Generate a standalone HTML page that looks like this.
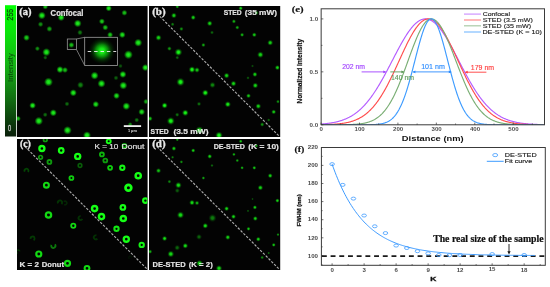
<!DOCTYPE html><html><head><meta charset="utf-8"><title>Figure</title><style>html,body{margin:0;padding:0;background:#fff;overflow:hidden}svg{display:block}</style></head><body>
<svg width="550" height="287" viewBox="0 0 550 287">
<defs>
<radialGradient id="g"><stop offset="0" stop-color="#22ff22" stop-opacity="1"/><stop offset="0.4" stop-color="#18ec18" stop-opacity="0.92"/><stop offset="0.7" stop-color="#10c010" stop-opacity="0.5"/><stop offset="1" stop-color="#009000" stop-opacity="0"/></radialGradient>
<radialGradient id="gs"><stop offset="0" stop-color="#1aff1a" stop-opacity="1"/><stop offset="0.35" stop-color="#14f014" stop-opacity="0.9"/><stop offset="0.7" stop-color="#0cb00c" stop-opacity="0.35"/><stop offset="1" stop-color="#009000" stop-opacity="0"/></radialGradient>
<radialGradient id="gi"><stop offset="0" stop-color="#20ff20" stop-opacity="1"/><stop offset="0.2" stop-color="#16f016" stop-opacity="0.95"/><stop offset="0.45" stop-color="#0cb80c" stop-opacity="0.75"/><stop offset="0.7" stop-color="#086808" stop-opacity="0.4"/><stop offset="1" stop-color="#003000" stop-opacity="0"/></radialGradient>
<linearGradient id="cb" x1="0" y1="0" x2="0" y2="1"><stop offset="0" stop-color="#00ff00"/><stop offset="0.2" stop-color="#0ae60a"/><stop offset="0.45" stop-color="#14b414"/><stop offset="0.7" stop-color="#127212"/><stop offset="0.9" stop-color="#0c380c"/><stop offset="1" stop-color="#0a1e0a"/></linearGradient>
<filter id="bl" x="-50%" y="-50%" width="200%" height="200%"><feGaussianBlur stdDeviation="0.45"/></filter>
<clipPath id="tr"><polygon points="0,0 130.6,0 130.6,131.0"/></clipPath>
<clipPath id="bl2"><polygon points="0,0 0,131.0 130.6,131.0"/></clipPath>
<clipPath id="pc"><rect x="0" y="0" width="130.6" height="131.0"/></clipPath>
<clipPath id="ec"><rect x="321.15" y="8.8" width="223.35000000000002" height="116.0"/></clipPath>
</defs>
<rect x="5" y="5.2" width="11.2" height="131.3" fill="url(#cb)"/>
<text transform="translate(13.1,20.4) rotate(-90)" font-family="'Liberation Sans', Arial, sans-serif" font-size="9" fill="#0a4a0a" stroke="#0a4a0a" stroke-width="0.25" textLength="11.5" lengthAdjust="spacingAndGlyphs">255</text>
<text transform="translate(12.6,81.9) rotate(-90)" font-family="'Liberation Sans', Arial, sans-serif" font-size="6.3" fill="#062a06" opacity="0.8" textLength="28.7" lengthAdjust="spacingAndGlyphs">Intensity</text>
<text transform="translate(7.9,131.3) scale(0.7,1)" font-family="'Liberation Sans', Arial, sans-serif" font-size="8.2" fill="#c8c8c8" stroke="#c8c8c8" stroke-width="0.3">0</text>
<g transform="translate(17.0,6.0)"><rect width="130.6" height="131.0" fill="#030303"/><g clip-path="url(#pc)">
<g><circle cx="28.3" cy="0.7" r="2.88" fill="url(#g)" opacity="0.76"/>
<circle cx="24.9" cy="9.5" r="4.02" fill="url(#g)" opacity="0.95"/>
<circle cx="44.2" cy="11.5" r="3.68" fill="url(#g)" opacity="0.95"/>
<circle cx="60.7" cy="17.4" r="4.02" fill="url(#g)" opacity="0.95"/>
<circle cx="23.6" cy="18.3" r="2.88" fill="url(#g)" opacity="0.57"/>
<circle cx="32.4" cy="22.9" r="3.1" fill="url(#g)" opacity="0.66"/>
<circle cx="63" cy="26.5" r="2.88" fill="url(#g)" opacity="0.47"/>
<circle cx="9.5" cy="31.7" r="3.45" fill="url(#g)" opacity="0.81"/>
<circle cx="54.4" cy="39" r="3.1" fill="url(#g)" opacity="0.76"/>
<circle cx="20.4" cy="42.6" r="2.64" fill="url(#g)" opacity="0.57"/>
<circle cx="29.4" cy="46.2" r="4.25" fill="url(#g)" opacity="0.95"/>
<circle cx="28.3" cy="51.6" r="2.3" fill="url(#g)" opacity="0.38"/>
<circle cx="43" cy="63.6" r="3.68" fill="url(#g)" opacity="0.95"/>
<circle cx="48" cy="64" r="3.1" fill="url(#g)" opacity="0.76"/>
<circle cx="91.7" cy="2.3" r="3.22" fill="url(#g)" opacity="0.95"/>
<circle cx="107.4" cy="6.8" r="3.1" fill="url(#g)" opacity="0.76"/>
<circle cx="84.9" cy="15.4" r="3.1" fill="url(#g)" opacity="0.81"/>
<circle cx="88.3" cy="21.5" r="3.1" fill="url(#g)" opacity="0.76"/>
<circle cx="93.1" cy="28.8" r="3.1" fill="url(#g)" opacity="0.81"/>
<circle cx="105.3" cy="28.8" r="3.45" fill="url(#g)" opacity="0.9"/>
<circle cx="121.2" cy="36.7" r="4.14" fill="url(#g)" opacity="0.95"/>
<circle cx="111.4" cy="48.7" r="4.6" fill="url(#g)" opacity="0.95"/>
<circle cx="128.4" cy="61.6" r="3.68" fill="url(#g)" opacity="0.95"/>
<circle cx="103.5" cy="60" r="2.3" fill="url(#g)" opacity="0.33"/>
<circle cx="31.5" cy="76" r="4.6" fill="url(#g)" opacity="0.95"/>
<circle cx="63.5" cy="79" r="3.45" fill="url(#g)" opacity="0.52"/>
<circle cx="56.3" cy="86.8" r="3.68" fill="url(#g)" opacity="0.95"/>
<circle cx="15.6" cy="99.5" r="3.45" fill="url(#g)" opacity="0.95"/>
<circle cx="50" cy="97.9" r="2.53" fill="url(#g)" opacity="0.43"/>
<circle cx="36.3" cy="106.8" r="3.68" fill="url(#g)" opacity="0.95"/>
<circle cx="28.2" cy="108.7" r="2.53" fill="url(#g)" opacity="0.43"/>
<circle cx="1.1" cy="112.6" r="2.88" fill="url(#g)" opacity="0.76"/>
<circle cx="21.8" cy="115" r="4.37" fill="url(#g)" opacity="0.95"/>
<circle cx="50.5" cy="124.3" r="4.37" fill="url(#g)" opacity="0.95"/>
<circle cx="77.6" cy="69.6" r="4.14" fill="url(#g)" opacity="0.95"/>
<circle cx="105.9" cy="68.4" r="3.68" fill="url(#g)" opacity="0.95"/>
<circle cx="99" cy="71.9" r="2.53" fill="url(#g)" opacity="0.38"/>
<circle cx="84.5" cy="77.6" r="4.14" fill="url(#g)" opacity="0.95"/>
<circle cx="106.3" cy="79.5" r="4.14" fill="url(#g)" opacity="0.95"/>
<circle cx="99.5" cy="89.8" r="3.45" fill="url(#g)" opacity="0.9"/>
<circle cx="78.8" cy="98.3" r="3.45" fill="url(#g)" opacity="0.9"/>
<circle cx="109.3" cy="100.2" r="4.02" fill="url(#g)" opacity="0.95"/>
<circle cx="129" cy="95.6" r="2.88" fill="url(#g)" opacity="0.66"/>
<circle cx="124.7" cy="105.9" r="3.45" fill="url(#g)" opacity="0.9"/>
<circle cx="119.7" cy="114" r="2.53" fill="url(#g)" opacity="0.47"/>
<circle cx="70" cy="129.3" r="4.14" fill="url(#g)" opacity="0.95"/>
<circle cx="113.2" cy="118.5" r="2.53" fill="url(#g)" opacity="0.57"/></g><rect x="50.3" y="33" width="9.1" height="10.4" fill="none" stroke="#a0a0a0" stroke-width="0.75"/><line x1="59.4" y1="33" x2="67.7" y2="31.3" stroke="#a0a0a0" stroke-width="0.7"/><line x1="59.4" y1="43.4" x2="67.7" y2="59.4" stroke="#a0a0a0" stroke-width="0.7"/><rect x="67.7" y="31.3" width="32.8" height="28.1" fill="#020202" stroke="#a0a0a0" stroke-width="0.8"/><circle cx="84.9" cy="44.8" r="13.5" fill="url(#gi)"/><line x1="70.7" y1="45.5" x2="99.2" y2="45.5" stroke="#f0f0f0" stroke-width="0.9" stroke-dasharray="3.5 2.9"/><rect x="106.8" y="119.2" width="17.3" height="1.8" fill="#f0f0f0"/><text x="110.9" y="126" font-family="'Liberation Sans', Arial, sans-serif" font-weight="bold" font-size="3.8" fill="#e0e0e0">1 μm</text><text transform="translate(2.24,8.92) scale(1.127,1)" font-family="'Liberation Serif', 'Times New Roman', serif" font-weight="bold" font-size="9.30" fill="#e8e8e8" stroke="#e8e8e8" stroke-width="0.3" xml:space="preserve">(a)</text><text transform="translate(33.58,9.50) scale(0.947,1)" font-family="'Liberation Sans', Arial, sans-serif" font-weight="bold" font-size="8.14" fill="#e4e4e4" stroke="#e4e4e4" stroke-width="0.18" xml:space="preserve">Confocal</text>
</g></g>
<g transform="translate(149.0,6.0)"><rect width="131.2" height="131.0" fill="#030303"/><g clip-path="url(#pc)">
<g clip-path="url(#tr)"><circle cx="28.3" cy="0.7" r="2.12" fill="url(#gs)" opacity="0.68"/>
<circle cx="24.9" cy="9.5" r="2.98" fill="url(#gs)" opacity="0.85"/>
<circle cx="44.2" cy="11.5" r="2.72" fill="url(#gs)" opacity="0.85"/>
<circle cx="60.7" cy="17.4" r="2.98" fill="url(#gs)" opacity="0.85"/>
<circle cx="23.6" cy="18.3" r="2.12" fill="url(#gs)" opacity="0.51"/>
<circle cx="32.4" cy="22.9" r="2.29" fill="url(#gs)" opacity="0.59"/>
<circle cx="63" cy="26.5" r="2.12" fill="url(#gs)" opacity="0.42"/>
<circle cx="9.5" cy="31.7" r="2.55" fill="url(#gs)" opacity="0.72"/>
<circle cx="54.4" cy="39" r="2.29" fill="url(#gs)" opacity="0.68"/>
<circle cx="20.4" cy="42.6" r="1.95" fill="url(#gs)" opacity="0.51"/>
<circle cx="29.4" cy="46.2" r="3.15" fill="url(#gs)" opacity="0.85"/>
<circle cx="28.3" cy="51.6" r="1.7" fill="url(#gs)" opacity="0.34"/>
<circle cx="43" cy="63.6" r="2.72" fill="url(#gs)" opacity="0.85"/>
<circle cx="48" cy="64" r="2.29" fill="url(#gs)" opacity="0.68"/>
<circle cx="91.7" cy="2.3" r="2.38" fill="url(#gs)" opacity="0.85"/>
<circle cx="107.4" cy="6.8" r="2.29" fill="url(#gs)" opacity="0.68"/>
<circle cx="84.9" cy="15.4" r="2.29" fill="url(#gs)" opacity="0.72"/>
<circle cx="88.3" cy="21.5" r="2.29" fill="url(#gs)" opacity="0.68"/>
<circle cx="93.1" cy="28.8" r="2.29" fill="url(#gs)" opacity="0.72"/>
<circle cx="105.3" cy="28.8" r="2.55" fill="url(#gs)" opacity="0.81"/>
<circle cx="121.2" cy="36.7" r="3.06" fill="url(#gs)" opacity="0.85"/>
<circle cx="111.4" cy="48.7" r="3.4" fill="url(#gs)" opacity="0.85"/>
<circle cx="128.4" cy="61.6" r="2.72" fill="url(#gs)" opacity="0.85"/>
<circle cx="103.5" cy="60" r="1.7" fill="url(#gs)" opacity="0.3"/>
<circle cx="31.5" cy="76" r="3.4" fill="url(#gs)" opacity="0.85"/>
<circle cx="63.5" cy="79" r="2.55" fill="url(#gs)" opacity="0.47"/>
<circle cx="56.3" cy="86.8" r="2.72" fill="url(#gs)" opacity="0.85"/>
<circle cx="15.6" cy="99.5" r="2.55" fill="url(#gs)" opacity="0.85"/>
<circle cx="50" cy="97.9" r="1.87" fill="url(#gs)" opacity="0.38"/>
<circle cx="36.3" cy="106.8" r="2.72" fill="url(#gs)" opacity="0.85"/>
<circle cx="28.2" cy="108.7" r="1.87" fill="url(#gs)" opacity="0.38"/>
<circle cx="1.1" cy="112.6" r="2.12" fill="url(#gs)" opacity="0.68"/>
<circle cx="21.8" cy="115" r="3.23" fill="url(#gs)" opacity="0.85"/>
<circle cx="50.5" cy="124.3" r="3.23" fill="url(#gs)" opacity="0.85"/>
<circle cx="77.6" cy="69.6" r="3.06" fill="url(#gs)" opacity="0.85"/>
<circle cx="105.9" cy="68.4" r="2.72" fill="url(#gs)" opacity="0.85"/>
<circle cx="99" cy="71.9" r="1.87" fill="url(#gs)" opacity="0.34"/>
<circle cx="84.5" cy="77.6" r="3.06" fill="url(#gs)" opacity="0.85"/>
<circle cx="106.3" cy="79.5" r="3.06" fill="url(#gs)" opacity="0.85"/>
<circle cx="99.5" cy="89.8" r="2.55" fill="url(#gs)" opacity="0.81"/>
<circle cx="78.8" cy="98.3" r="2.55" fill="url(#gs)" opacity="0.81"/>
<circle cx="109.3" cy="100.2" r="2.98" fill="url(#gs)" opacity="0.85"/>
<circle cx="129" cy="95.6" r="2.12" fill="url(#gs)" opacity="0.59"/>
<circle cx="124.7" cy="105.9" r="2.55" fill="url(#gs)" opacity="0.81"/>
<circle cx="119.7" cy="114" r="1.87" fill="url(#gs)" opacity="0.42"/>
<circle cx="70" cy="129.3" r="3.06" fill="url(#gs)" opacity="0.85"/>
<circle cx="113.2" cy="118.5" r="1.87" fill="url(#gs)" opacity="0.51"/></g><g clip-path="url(#bl2)"><circle cx="28.3" cy="0.7" r="2.7" fill="url(#gs)" opacity="0.8"/>
<circle cx="24.9" cy="9.5" r="3.78" fill="url(#gs)" opacity="1"/>
<circle cx="44.2" cy="11.5" r="3.46" fill="url(#gs)" opacity="1"/>
<circle cx="60.7" cy="17.4" r="3.78" fill="url(#gs)" opacity="1"/>
<circle cx="23.6" cy="18.3" r="2.7" fill="url(#gs)" opacity="0.6"/>
<circle cx="32.4" cy="22.9" r="2.92" fill="url(#gs)" opacity="0.7"/>
<circle cx="63" cy="26.5" r="2.7" fill="url(#gs)" opacity="0.5"/>
<circle cx="9.5" cy="31.7" r="3.24" fill="url(#gs)" opacity="0.85"/>
<circle cx="54.4" cy="39" r="2.92" fill="url(#gs)" opacity="0.8"/>
<circle cx="20.4" cy="42.6" r="2.48" fill="url(#gs)" opacity="0.6"/>
<circle cx="29.4" cy="46.2" r="4" fill="url(#gs)" opacity="1"/>
<circle cx="28.3" cy="51.6" r="2.16" fill="url(#gs)" opacity="0.4"/>
<circle cx="43" cy="63.6" r="3.46" fill="url(#gs)" opacity="1"/>
<circle cx="48" cy="64" r="2.92" fill="url(#gs)" opacity="0.8"/>
<circle cx="91.7" cy="2.3" r="3.02" fill="url(#gs)" opacity="1"/>
<circle cx="107.4" cy="6.8" r="2.92" fill="url(#gs)" opacity="0.8"/>
<circle cx="84.9" cy="15.4" r="2.92" fill="url(#gs)" opacity="0.85"/>
<circle cx="88.3" cy="21.5" r="2.92" fill="url(#gs)" opacity="0.8"/>
<circle cx="93.1" cy="28.8" r="2.92" fill="url(#gs)" opacity="0.85"/>
<circle cx="105.3" cy="28.8" r="3.24" fill="url(#gs)" opacity="0.95"/>
<circle cx="121.2" cy="36.7" r="3.89" fill="url(#gs)" opacity="1"/>
<circle cx="111.4" cy="48.7" r="4.32" fill="url(#gs)" opacity="1"/>
<circle cx="128.4" cy="61.6" r="3.46" fill="url(#gs)" opacity="1"/>
<circle cx="103.5" cy="60" r="2.16" fill="url(#gs)" opacity="0.35"/>
<circle cx="31.5" cy="76" r="4.32" fill="url(#gs)" opacity="1"/>
<circle cx="63.5" cy="79" r="3.24" fill="url(#gs)" opacity="0.55"/>
<circle cx="56.3" cy="86.8" r="3.46" fill="url(#gs)" opacity="1"/>
<circle cx="15.6" cy="99.5" r="3.24" fill="url(#gs)" opacity="1"/>
<circle cx="50" cy="97.9" r="2.38" fill="url(#gs)" opacity="0.45"/>
<circle cx="36.3" cy="106.8" r="3.46" fill="url(#gs)" opacity="1"/>
<circle cx="28.2" cy="108.7" r="2.38" fill="url(#gs)" opacity="0.45"/>
<circle cx="1.1" cy="112.6" r="2.7" fill="url(#gs)" opacity="0.8"/>
<circle cx="21.8" cy="115" r="4.1" fill="url(#gs)" opacity="1"/>
<circle cx="50.5" cy="124.3" r="4.1" fill="url(#gs)" opacity="1"/>
<circle cx="77.6" cy="69.6" r="3.89" fill="url(#gs)" opacity="1"/>
<circle cx="105.9" cy="68.4" r="3.46" fill="url(#gs)" opacity="1"/>
<circle cx="99" cy="71.9" r="2.38" fill="url(#gs)" opacity="0.4"/>
<circle cx="84.5" cy="77.6" r="3.89" fill="url(#gs)" opacity="1"/>
<circle cx="106.3" cy="79.5" r="3.89" fill="url(#gs)" opacity="1"/>
<circle cx="99.5" cy="89.8" r="3.24" fill="url(#gs)" opacity="0.95"/>
<circle cx="78.8" cy="98.3" r="3.24" fill="url(#gs)" opacity="0.95"/>
<circle cx="109.3" cy="100.2" r="3.78" fill="url(#gs)" opacity="1"/>
<circle cx="129" cy="95.6" r="2.7" fill="url(#gs)" opacity="0.7"/>
<circle cx="124.7" cy="105.9" r="3.24" fill="url(#gs)" opacity="0.95"/>
<circle cx="119.7" cy="114" r="2.38" fill="url(#gs)" opacity="0.5"/>
<circle cx="70" cy="129.3" r="3.89" fill="url(#gs)" opacity="1"/>
<circle cx="113.2" cy="118.5" r="2.38" fill="url(#gs)" opacity="0.6"/></g><line x1="8" y1="7.6" x2="130.6" y2="130.6" stroke="#ababab" stroke-width="1.15" stroke-dasharray="2.5 1.45"/><text transform="translate(3.22,9.02) scale(1.175,1)" font-family="'Liberation Serif', 'Times New Roman', serif" font-weight="bold" font-size="9.30" fill="#e8e8e8" stroke="#e8e8e8" stroke-width="0.3" xml:space="preserve">(b)</text><text transform="translate(74.71,8.60) scale(0.867,1)" font-family="'Liberation Sans', Arial, sans-serif" font-weight="bold" font-size="7.78" fill="#e4e4e4" stroke="#e4e4e4" stroke-width="0.18" xml:space="preserve">STED</text><text transform="translate(95.79,8.60) scale(1.069,1)" font-family="'Liberation Sans', Arial, sans-serif" font-weight="bold" font-size="7.78" fill="#e4e4e4" stroke="#e4e4e4" stroke-width="0.18" xml:space="preserve">(35 mW)</text><text transform="translate(1.60,127.50) scale(0.861,1)" font-family="'Liberation Sans', Arial, sans-serif" font-weight="bold" font-size="7.92" fill="#e4e4e4" stroke="#e4e4e4" stroke-width="0.18" xml:space="preserve">STED</text><text transform="translate(24.38,127.50) scale(1.065,1)" font-family="'Liberation Sans', Arial, sans-serif" font-weight="bold" font-size="7.92" fill="#e4e4e4" stroke="#e4e4e4" stroke-width="0.18" xml:space="preserve">(3.5 mW)</text>
</g></g>
<g transform="translate(17.0,139.0)"><rect width="130.6" height="131.0" fill="#030303"/><g clip-path="url(#pc)">
<g clip-path="url(#tr)" filter="url(#bl)"><circle cx="28.3" cy="0.7" r="1.8" fill="none" stroke="#14ff14" stroke-width="1.7" opacity="0.6"/>
<circle cx="24.9" cy="9.5" r="2.52" fill="none" stroke="#14ff14" stroke-width="2.38" opacity="1"/>
<circle cx="44.2" cy="11.5" r="2.3" fill="none" stroke="#14ff14" stroke-width="2.18" opacity="1"/>
<circle cx="60.7" cy="17.4" r="2.52" fill="none" stroke="#14ff14" stroke-width="2.38" opacity="1"/>
<circle cx="23.6" cy="18.3" r="1.8" fill="none" stroke="#14ff14" stroke-width="1.7" opacity="0.6"/>
<circle cx="32.4" cy="22.9" r="1.94" fill="none" stroke="#14ff14" stroke-width="1.84" opacity="0.6"/>
<circle cx="63" cy="26.5" r="1.8" fill="none" stroke="#14ff14" stroke-width="1.7" opacity="0.35"/>
<circle cx="9.5" cy="31.7" r="2.16" fill="none" stroke="#14ff14" stroke-width="2.04" opacity="0.4"/>
<circle cx="54.4" cy="39" r="1.94" fill="none" stroke="#14ff14" stroke-width="1.84" opacity="0.8"/>
<circle cx="29.4" cy="46.2" r="2.66" fill="none" stroke="#14ff14" stroke-width="2.52" opacity="1"/>
<circle cx="43" cy="63.6" r="2.3" fill="none" stroke="#14ff14" stroke-width="2.18" opacity="0.3"/>
<circle cx="48" cy="64" r="1.94" fill="none" stroke="#14ff14" stroke-width="1.84" opacity="0.2"/>
<circle cx="91.7" cy="2.3" r="2.02" fill="none" stroke="#14ff14" stroke-width="1.9" opacity="1"/>
<circle cx="107.4" cy="6.8" r="1.94" fill="none" stroke="#14ff14" stroke-width="1.84" opacity="0.7"/>
<circle cx="84.9" cy="15.4" r="1.94" fill="none" stroke="#14ff14" stroke-width="1.84" opacity="0.7"/>
<circle cx="88.3" cy="21.5" r="1.94" fill="none" stroke="#14ff14" stroke-width="1.84" opacity="0.6"/>
<circle cx="93.1" cy="28.8" r="1.94" fill="none" stroke="#14ff14" stroke-width="1.84" opacity="0.8"/>
<circle cx="105.3" cy="28.8" r="2.16" fill="none" stroke="#14ff14" stroke-width="2.04" opacity="0.95"/>
<circle cx="121.2" cy="36.7" r="2.59" fill="none" stroke="#14ff14" stroke-width="2.45" opacity="1"/>
<circle cx="111.4" cy="48.7" r="2.88" fill="none" stroke="#14ff14" stroke-width="2.72" opacity="1"/>
<circle cx="128.4" cy="61.6" r="2.3" fill="none" stroke="#14ff14" stroke-width="2.18" opacity="1"/>
<circle cx="31.5" cy="76" r="2.88" fill="none" stroke="#14ff14" stroke-width="2.72" opacity="1"/>
<circle cx="63.5" cy="79" r="2.16" fill="none" stroke="#14ff14" stroke-width="2.04" opacity="0.3"/>
<circle cx="56.3" cy="86.8" r="2.3" fill="none" stroke="#14ff14" stroke-width="2.18" opacity="1"/>
<circle cx="15.6" cy="99.5" r="2.16" fill="none" stroke="#14ff14" stroke-width="2.04" opacity="0.35"/>
<circle cx="36.3" cy="106.8" r="2.3" fill="none" stroke="#14ff14" stroke-width="2.18" opacity="0.7"/>
<circle cx="1.1" cy="112.6" r="1.8" fill="none" stroke="#14ff14" stroke-width="1.7" opacity="0.3"/>
<circle cx="21.8" cy="115" r="2.74" fill="none" stroke="#14ff14" stroke-width="2.58" opacity="1"/>
<circle cx="50.5" cy="124.3" r="2.74" fill="none" stroke="#14ff14" stroke-width="2.58" opacity="1"/>
<circle cx="77.6" cy="69.6" r="2.59" fill="none" stroke="#14ff14" stroke-width="2.45" opacity="1"/>
<circle cx="105.9" cy="68.4" r="2.3" fill="none" stroke="#14ff14" stroke-width="2.18" opacity="1"/>
<circle cx="84.5" cy="77.6" r="2.59" fill="none" stroke="#14ff14" stroke-width="2.45" opacity="1"/>
<circle cx="106.3" cy="79.5" r="2.59" fill="none" stroke="#14ff14" stroke-width="2.45" opacity="1"/>
<circle cx="99.5" cy="89.8" r="2.16" fill="none" stroke="#14ff14" stroke-width="2.04" opacity="0.9"/>
<circle cx="78.8" cy="98.3" r="2.16" fill="none" stroke="#14ff14" stroke-width="2.04" opacity="0.3"/>
<circle cx="109.3" cy="100.2" r="2.52" fill="none" stroke="#14ff14" stroke-width="2.38" opacity="1"/>
<circle cx="124.7" cy="105.9" r="2.16" fill="none" stroke="#14ff14" stroke-width="2.04" opacity="0.95"/>
<circle cx="70" cy="129.3" r="2.59" fill="none" stroke="#14ff14" stroke-width="2.45" opacity="1"/>
<circle cx="113.2" cy="118.5" r="1.58" fill="none" stroke="#14ff14" stroke-width="1.5" opacity="0.1"/></g><g clip-path="url(#bl2)" filter="url(#bl)"><circle cx="28.3" cy="0.7" r="1.66" fill="none" stroke="#14ff14" stroke-width="1.45" opacity="0.38" stroke-dasharray="6.45 3.95" transform="rotate(0 28.3 0.7)"/>
<circle cx="24.9" cy="9.5" r="2.32" fill="none" stroke="#14ff14" stroke-width="2.02" opacity="0.85"/>
<circle cx="44.2" cy="11.5" r="2.12" fill="none" stroke="#14ff14" stroke-width="1.85" opacity="0.85"/>
<circle cx="60.7" cy="17.4" r="2.32" fill="none" stroke="#14ff14" stroke-width="2.02" opacity="0.85"/>
<circle cx="23.6" cy="18.3" r="1.66" fill="none" stroke="#14ff14" stroke-width="1.45" opacity="0.38" stroke-dasharray="6.45 3.95" transform="rotate(292 23.6 18.3)"/>
<circle cx="32.4" cy="22.9" r="1.79" fill="none" stroke="#14ff14" stroke-width="1.56" opacity="0.38" stroke-dasharray="6.97 4.27" transform="rotate(5 32.4 22.9)"/>
<circle cx="63" cy="26.5" r="1.66" fill="none" stroke="#14ff14" stroke-width="1.45" opacity="0.22" stroke-dasharray="6.45 3.95" transform="rotate(78 63 26.5)"/>
<circle cx="9.5" cy="31.7" r="1.99" fill="none" stroke="#14ff14" stroke-width="1.73" opacity="0.26" stroke-dasharray="7.74 4.74" transform="rotate(151 9.5 31.7)"/>
<circle cx="54.4" cy="39" r="1.79" fill="none" stroke="#14ff14" stroke-width="1.56" opacity="0.51" stroke-dasharray="6.97 4.27" transform="rotate(224 54.4 39)"/>
<circle cx="29.4" cy="46.2" r="2.45" fill="none" stroke="#14ff14" stroke-width="2.14" opacity="0.85"/>
<circle cx="43" cy="63.6" r="2.12" fill="none" stroke="#14ff14" stroke-width="1.85" opacity="0.19" stroke-dasharray="8.26 5.06" transform="rotate(156 43 63.6)"/>
<circle cx="48" cy="64" r="1.79" fill="none" stroke="#14ff14" stroke-width="1.56" opacity="0.13" stroke-dasharray="6.97 4.27" transform="rotate(229 48 64)"/>
<circle cx="91.7" cy="2.3" r="1.85" fill="none" stroke="#14ff14" stroke-width="1.62" opacity="0.85"/>
<circle cx="107.4" cy="6.8" r="1.79" fill="none" stroke="#14ff14" stroke-width="1.56" opacity="0.45" stroke-dasharray="6.97 4.27" transform="rotate(15 107.4 6.8)"/>
<circle cx="84.9" cy="15.4" r="1.79" fill="none" stroke="#14ff14" stroke-width="1.56" opacity="0.45" stroke-dasharray="6.97 4.27" transform="rotate(88 84.9 15.4)"/>
<circle cx="88.3" cy="21.5" r="1.79" fill="none" stroke="#14ff14" stroke-width="1.56" opacity="0.38" stroke-dasharray="6.97 4.27" transform="rotate(161 88.3 21.5)"/>
<circle cx="93.1" cy="28.8" r="1.79" fill="none" stroke="#14ff14" stroke-width="1.56" opacity="0.51" stroke-dasharray="6.97 4.27" transform="rotate(234 93.1 28.8)"/>
<circle cx="105.3" cy="28.8" r="1.99" fill="none" stroke="#14ff14" stroke-width="1.73" opacity="0.81"/>
<circle cx="121.2" cy="36.7" r="2.38" fill="none" stroke="#14ff14" stroke-width="2.08" opacity="0.85"/>
<circle cx="111.4" cy="48.7" r="2.65" fill="none" stroke="#14ff14" stroke-width="2.31" opacity="0.85"/>
<circle cx="128.4" cy="61.6" r="2.12" fill="none" stroke="#14ff14" stroke-width="1.85" opacity="0.85"/>
<circle cx="31.5" cy="76" r="2.65" fill="none" stroke="#14ff14" stroke-width="2.31" opacity="0.85"/>
<circle cx="63.5" cy="79" r="1.99" fill="none" stroke="#14ff14" stroke-width="1.73" opacity="0.19" stroke-dasharray="7.74 4.74" transform="rotate(25 63.5 79)"/>
<circle cx="56.3" cy="86.8" r="2.12" fill="none" stroke="#14ff14" stroke-width="1.85" opacity="0.85"/>
<circle cx="15.6" cy="99.5" r="1.99" fill="none" stroke="#14ff14" stroke-width="1.73" opacity="0.22" stroke-dasharray="7.74 4.74" transform="rotate(171 15.6 99.5)"/>
<circle cx="36.3" cy="106.8" r="2.12" fill="none" stroke="#14ff14" stroke-width="1.85" opacity="0.45" stroke-dasharray="8.26 5.06" transform="rotate(317 36.3 106.8)"/>
<circle cx="1.1" cy="112.6" r="1.66" fill="none" stroke="#14ff14" stroke-width="1.45" opacity="0.19" stroke-dasharray="6.45 3.95" transform="rotate(103 1.1 112.6)"/>
<circle cx="21.8" cy="115" r="2.52" fill="none" stroke="#14ff14" stroke-width="2.2" opacity="0.85"/>
<circle cx="50.5" cy="124.3" r="2.52" fill="none" stroke="#14ff14" stroke-width="2.2" opacity="0.85"/>
<circle cx="77.6" cy="69.6" r="2.38" fill="none" stroke="#14ff14" stroke-width="2.08" opacity="0.85"/>
<circle cx="105.9" cy="68.4" r="2.12" fill="none" stroke="#14ff14" stroke-width="1.85" opacity="0.85"/>
<circle cx="84.5" cy="77.6" r="2.38" fill="none" stroke="#14ff14" stroke-width="2.08" opacity="0.85"/>
<circle cx="106.3" cy="79.5" r="2.38" fill="none" stroke="#14ff14" stroke-width="2.08" opacity="0.85"/>
<circle cx="99.5" cy="89.8" r="1.99" fill="none" stroke="#14ff14" stroke-width="1.73" opacity="0.77"/>
<circle cx="78.8" cy="98.3" r="1.99" fill="none" stroke="#14ff14" stroke-width="1.73" opacity="0.19" stroke-dasharray="7.74 4.74" transform="rotate(40 78.8 98.3)"/>
<circle cx="109.3" cy="100.2" r="2.32" fill="none" stroke="#14ff14" stroke-width="2.02" opacity="0.85"/>
<circle cx="124.7" cy="105.9" r="1.99" fill="none" stroke="#14ff14" stroke-width="1.73" opacity="0.81"/>
<circle cx="70" cy="129.3" r="2.38" fill="none" stroke="#14ff14" stroke-width="2.08" opacity="0.85"/>
<circle cx="113.2" cy="118.5" r="1.46" fill="none" stroke="#14ff14" stroke-width="1.27" opacity="0.06" stroke-dasharray="5.68 3.48" transform="rotate(118 113.2 118.5)"/></g><line x1="8" y1="7.6" x2="130.6" y2="130.6" stroke="#ababab" stroke-width="1.15" stroke-dasharray="2.5 1.45"/><text transform="translate(2.97,7.82) scale(1.052,1)" font-family="'Liberation Serif', 'Times New Roman', serif" font-weight="bold" font-size="9.30" fill="#e8e8e8" stroke="#e8e8e8" stroke-width="0.3" xml:space="preserve">(c)</text><text transform="translate(77.43,9.70) scale(1.015,1)" font-family="'Liberation Sans', Arial, sans-serif" font-size="8.07" fill="#e4e4e4" stroke="#e4e4e4" stroke-width="0.18" xml:space="preserve">K = 10</text><text transform="translate(104.50,9.70) scale(1.062,1)" font-family="'Liberation Sans', Arial, sans-serif" font-size="8.07" fill="#e4e4e4" stroke="#e4e4e4" stroke-width="0.18" xml:space="preserve">Donut</text><text transform="translate(2.46,127.90) scale(0.998,1)" font-family="'Liberation Sans', Arial, sans-serif" font-weight="bold" font-size="8.07" fill="#e4e4e4" stroke="#e4e4e4" stroke-width="0.18" xml:space="preserve">K = 2</text><text transform="translate(24.79,127.90) scale(0.953,1)" font-family="'Liberation Sans', Arial, sans-serif" font-weight="bold" font-size="8.07" fill="#e4e4e4" stroke="#e4e4e4" stroke-width="0.18" xml:space="preserve">Donut</text>
</g></g>
<g transform="translate(149.0,139.0)"><rect width="131.2" height="131.0" fill="#030303"/><g clip-path="url(#pc)">
<g clip-path="url(#tr)"><circle cx="28.3" cy="0.7" r="1.8" fill="url(#gs)" opacity="0.68"/>
<circle cx="24.9" cy="9.5" r="2.52" fill="url(#gs)" opacity="0.85"/>
<circle cx="44.2" cy="11.5" r="2.3" fill="url(#gs)" opacity="0.85"/>
<circle cx="60.7" cy="17.4" r="2.52" fill="url(#gs)" opacity="0.85"/>
<circle cx="23.6" cy="18.3" r="1.8" fill="url(#gs)" opacity="0.51"/>
<circle cx="32.4" cy="22.9" r="1.94" fill="url(#gs)" opacity="0.59"/>
<circle cx="63" cy="26.5" r="1.8" fill="url(#gs)" opacity="0.42"/>
<circle cx="9.5" cy="31.7" r="2.16" fill="url(#gs)" opacity="0.72"/>
<circle cx="54.4" cy="39" r="1.94" fill="url(#gs)" opacity="0.68"/>
<circle cx="20.4" cy="42.6" r="1.66" fill="url(#gs)" opacity="0.51"/>
<circle cx="29.4" cy="46.2" r="2.66" fill="url(#gs)" opacity="0.85"/>
<circle cx="28.3" cy="51.6" r="1.44" fill="url(#gs)" opacity="0.34"/>
<circle cx="43" cy="63.6" r="2.3" fill="url(#gs)" opacity="0.85"/>
<circle cx="48" cy="64" r="1.94" fill="url(#gs)" opacity="0.68"/>
<circle cx="91.7" cy="2.3" r="2.02" fill="url(#gs)" opacity="0.85"/>
<circle cx="107.4" cy="6.8" r="1.94" fill="url(#gs)" opacity="0.68"/>
<circle cx="84.9" cy="15.4" r="1.94" fill="url(#gs)" opacity="0.72"/>
<circle cx="88.3" cy="21.5" r="1.94" fill="url(#gs)" opacity="0.68"/>
<circle cx="93.1" cy="28.8" r="1.94" fill="url(#gs)" opacity="0.72"/>
<circle cx="105.3" cy="28.8" r="2.16" fill="url(#gs)" opacity="0.81"/>
<circle cx="121.2" cy="36.7" r="2.59" fill="url(#gs)" opacity="0.85"/>
<circle cx="111.4" cy="48.7" r="2.88" fill="url(#gs)" opacity="0.85"/>
<circle cx="128.4" cy="61.6" r="2.3" fill="url(#gs)" opacity="0.85"/>
<circle cx="103.5" cy="60" r="1.44" fill="url(#gs)" opacity="0.3"/>
<circle cx="31.5" cy="76" r="2.88" fill="url(#gs)" opacity="0.85"/>
<circle cx="63.5" cy="79" r="2.16" fill="url(#gs)" opacity="0.47"/>
<circle cx="56.3" cy="86.8" r="2.3" fill="url(#gs)" opacity="0.85"/>
<circle cx="15.6" cy="99.5" r="2.16" fill="url(#gs)" opacity="0.85"/>
<circle cx="50" cy="97.9" r="1.58" fill="url(#gs)" opacity="0.38"/>
<circle cx="36.3" cy="106.8" r="2.3" fill="url(#gs)" opacity="0.85"/>
<circle cx="28.2" cy="108.7" r="1.58" fill="url(#gs)" opacity="0.38"/>
<circle cx="1.1" cy="112.6" r="1.8" fill="url(#gs)" opacity="0.68"/>
<circle cx="21.8" cy="115" r="2.74" fill="url(#gs)" opacity="0.85"/>
<circle cx="50.5" cy="124.3" r="2.74" fill="url(#gs)" opacity="0.85"/>
<circle cx="77.6" cy="69.6" r="2.59" fill="url(#gs)" opacity="0.85"/>
<circle cx="105.9" cy="68.4" r="2.3" fill="url(#gs)" opacity="0.85"/>
<circle cx="99" cy="71.9" r="1.58" fill="url(#gs)" opacity="0.34"/>
<circle cx="84.5" cy="77.6" r="2.59" fill="url(#gs)" opacity="0.85"/>
<circle cx="106.3" cy="79.5" r="2.59" fill="url(#gs)" opacity="0.85"/>
<circle cx="99.5" cy="89.8" r="2.16" fill="url(#gs)" opacity="0.81"/>
<circle cx="78.8" cy="98.3" r="2.16" fill="url(#gs)" opacity="0.81"/>
<circle cx="109.3" cy="100.2" r="2.52" fill="url(#gs)" opacity="0.85"/>
<circle cx="129" cy="95.6" r="1.8" fill="url(#gs)" opacity="0.59"/>
<circle cx="124.7" cy="105.9" r="2.16" fill="url(#gs)" opacity="0.81"/>
<circle cx="119.7" cy="114" r="1.58" fill="url(#gs)" opacity="0.42"/>
<circle cx="70" cy="129.3" r="2.59" fill="url(#gs)" opacity="0.85"/>
<circle cx="113.2" cy="118.5" r="1.58" fill="url(#gs)" opacity="0.51"/></g><g clip-path="url(#bl2)"><circle cx="28.3" cy="0.7" r="2.3" fill="url(#gs)" opacity="0.72"/>
<circle cx="24.9" cy="9.5" r="3.22" fill="url(#gs)" opacity="0.9"/>
<circle cx="44.2" cy="11.5" r="2.94" fill="url(#gs)" opacity="0.9"/>
<circle cx="60.7" cy="17.4" r="3.22" fill="url(#gs)" opacity="0.9"/>
<circle cx="23.6" cy="18.3" r="2.3" fill="url(#gs)" opacity="0.54"/>
<circle cx="32.4" cy="22.9" r="2.48" fill="url(#gs)" opacity="0.63"/>
<circle cx="63" cy="26.5" r="3.45" fill="url(#gs)" opacity="0.45"/>
<circle cx="9.5" cy="31.7" r="2.76" fill="url(#gs)" opacity="0.77"/>
<circle cx="54.4" cy="39" r="2.48" fill="url(#gs)" opacity="0.72"/>
<circle cx="20.4" cy="42.6" r="2.12" fill="url(#gs)" opacity="0.54"/>
<circle cx="29.4" cy="46.2" r="3.4" fill="url(#gs)" opacity="0.9"/>
<circle cx="28.3" cy="51.6" r="2.76" fill="url(#gs)" opacity="0.36"/>
<circle cx="43" cy="63.6" r="2.94" fill="url(#gs)" opacity="0.9"/>
<circle cx="48" cy="64" r="2.48" fill="url(#gs)" opacity="0.72"/>
<circle cx="91.7" cy="2.3" r="2.58" fill="url(#gs)" opacity="0.9"/>
<circle cx="107.4" cy="6.8" r="2.48" fill="url(#gs)" opacity="0.72"/>
<circle cx="84.9" cy="15.4" r="2.48" fill="url(#gs)" opacity="0.77"/>
<circle cx="88.3" cy="21.5" r="2.48" fill="url(#gs)" opacity="0.72"/>
<circle cx="93.1" cy="28.8" r="2.48" fill="url(#gs)" opacity="0.77"/>
<circle cx="105.3" cy="28.8" r="2.76" fill="url(#gs)" opacity="0.85"/>
<circle cx="121.2" cy="36.7" r="3.31" fill="url(#gs)" opacity="0.9"/>
<circle cx="111.4" cy="48.7" r="3.68" fill="url(#gs)" opacity="0.9"/>
<circle cx="128.4" cy="61.6" r="2.94" fill="url(#gs)" opacity="0.9"/>
<circle cx="103.5" cy="60" r="2.76" fill="url(#gs)" opacity="0.32"/>
<circle cx="31.5" cy="76" r="3.68" fill="url(#gs)" opacity="0.9"/>
<circle cx="63.5" cy="79" r="4.14" fill="url(#gs)" opacity="0.5"/>
<circle cx="56.3" cy="86.8" r="2.94" fill="url(#gs)" opacity="0.9"/>
<circle cx="15.6" cy="99.5" r="2.76" fill="url(#gs)" opacity="0.9"/>
<circle cx="50" cy="97.9" r="3.04" fill="url(#gs)" opacity="0.41"/>
<circle cx="36.3" cy="106.8" r="2.94" fill="url(#gs)" opacity="0.9"/>
<circle cx="28.2" cy="108.7" r="3.04" fill="url(#gs)" opacity="0.41"/>
<circle cx="1.1" cy="112.6" r="2.3" fill="url(#gs)" opacity="0.72"/>
<circle cx="21.8" cy="115" r="3.5" fill="url(#gs)" opacity="0.9"/>
<circle cx="50.5" cy="124.3" r="3.5" fill="url(#gs)" opacity="0.9"/>
<circle cx="77.6" cy="69.6" r="3.31" fill="url(#gs)" opacity="0.9"/>
<circle cx="105.9" cy="68.4" r="2.94" fill="url(#gs)" opacity="0.9"/>
<circle cx="99" cy="71.9" r="3.04" fill="url(#gs)" opacity="0.36"/>
<circle cx="84.5" cy="77.6" r="3.31" fill="url(#gs)" opacity="0.9"/>
<circle cx="106.3" cy="79.5" r="3.31" fill="url(#gs)" opacity="0.9"/>
<circle cx="99.5" cy="89.8" r="2.76" fill="url(#gs)" opacity="0.85"/>
<circle cx="78.8" cy="98.3" r="2.76" fill="url(#gs)" opacity="0.85"/>
<circle cx="109.3" cy="100.2" r="3.22" fill="url(#gs)" opacity="0.9"/>
<circle cx="129" cy="95.6" r="2.3" fill="url(#gs)" opacity="0.63"/>
<circle cx="124.7" cy="105.9" r="2.76" fill="url(#gs)" opacity="0.85"/>
<circle cx="119.7" cy="114" r="3.04" fill="url(#gs)" opacity="0.45"/>
<circle cx="70" cy="129.3" r="3.31" fill="url(#gs)" opacity="0.9"/>
<circle cx="113.2" cy="118.5" r="2.02" fill="url(#gs)" opacity="0.54"/></g><line x1="8" y1="7.6" x2="130.6" y2="130.6" stroke="#ababab" stroke-width="1.15" stroke-dasharray="2.5 1.45"/><text transform="translate(3.22,7.52) scale(1.175,1)" font-family="'Liberation Serif', 'Times New Roman', serif" font-weight="bold" font-size="9.30" fill="#e8e8e8" stroke="#e8e8e8" stroke-width="0.3" xml:space="preserve">(d)</text><text transform="translate(64.72,9.65) scale(0.891,1)" font-family="'Liberation Sans', Arial, sans-serif" font-weight="bold" font-size="7.99" fill="#e4e4e4" stroke="#e4e4e4" stroke-width="0.18" xml:space="preserve">DE-STED</text><text transform="translate(99.28,9.65) scale(1.053,1)" font-family="'Liberation Sans', Arial, sans-serif" font-weight="bold" font-size="7.99" fill="#e4e4e4" stroke="#e4e4e4" stroke-width="0.18" xml:space="preserve">(K = 10)</text><text transform="translate(3.60,128.00) scale(0.933,1)" font-family="'Liberation Sans', Arial, sans-serif" font-weight="bold" font-size="8.07" fill="#e4e4e4" stroke="#e4e4e4" stroke-width="0.18" xml:space="preserve">DE-STED</text><text transform="translate(39.71,128.00) scale(0.968,1)" font-family="'Liberation Sans', Arial, sans-serif" font-weight="bold" font-size="8.07" fill="#e4e4e4" stroke="#e4e4e4" stroke-width="0.18" xml:space="preserve">(K = 2)</text>
</g></g>
<text transform="translate(291.73,12.30) scale(1.345,1)" font-family="'Liberation Serif', 'Times New Roman', serif" font-weight="bold" font-size="8.00" fill="#111" stroke="#111" stroke-width="0.12" xml:space="preserve">(e)</text>
<g clip-path="url(#ec)" fill="none" stroke-width="1.15">
<path d="M321.65,124.01 L322.15,123.97 L322.65,123.93 L323.15,123.89 L323.65,123.84 L324.15,123.8 L324.65,123.75 L325.15,123.7 L325.65,123.65 L326.15,123.6 L326.65,123.54 L327.15,123.48 L327.65,123.42 L328.15,123.36 L328.65,123.3 L329.15,123.23 L329.65,123.16 L330.15,123.09 L330.65,123.01 L331.15,122.93 L331.65,122.85 L332.15,122.77 L332.65,122.68 L333.15,122.59 L333.65,122.49 L334.15,122.4 L334.65,122.29 L335.15,122.19 L335.65,122.08 L336.15,121.97 L336.65,121.85 L337.15,121.73 L337.65,121.6 L338.15,121.48 L338.65,121.34 L339.15,121.2 L339.65,121.06 L340.15,120.91 L340.65,120.76 L341.15,120.6 L341.65,120.44 L342.15,120.27 L342.65,120.09 L343.15,119.91 L343.65,119.73 L344.15,119.54 L344.65,119.34 L345.15,119.14 L345.65,118.93 L346.15,118.71 L346.65,118.49 L347.15,118.26 L347.65,118.02 L348.15,117.78 L348.65,117.53 L349.15,117.28 L349.65,117.01 L350.15,116.74 L350.65,116.46 L351.15,116.17 L351.65,115.88 L352.15,115.58 L352.65,115.26 L353.15,114.94 L353.65,114.62 L354.15,114.28 L354.65,113.94 L355.15,113.58 L355.65,113.22 L356.15,112.85 L356.65,112.47 L357.15,112.08 L357.65,111.68 L358.15,111.27 L358.65,110.85 L359.15,110.42 L359.65,109.99 L360.15,109.54 L360.65,109.08 L361.15,108.62 L361.65,108.14 L362.15,107.65 L362.65,107.15 L363.15,106.64 L363.65,106.12 L364.15,105.6 L364.65,105.06 L365.15,104.51 L365.65,103.94 L366.15,103.37 L366.65,102.79 L367.15,102.2 L367.65,101.59 L368.15,100.98 L368.65,100.36 L369.15,99.72 L369.65,99.07 L370.15,98.42 L370.65,97.75 L371.15,97.07 L371.65,96.38 L372.15,95.68 L372.65,94.97 L373.15,94.25 L373.65,93.52 L374.15,92.78 L374.65,92.03 L375.15,91.27 L375.65,90.5 L376.15,89.72 L376.65,88.93 L377.15,88.13 L377.65,87.32 L378.15,86.5 L378.65,85.67 L379.15,84.84 L379.65,83.99 L380.15,83.14 L380.65,82.28 L381.15,81.41 L381.65,80.53 L382.15,79.65 L382.65,78.76 L383.15,77.86 L383.65,76.95 L384.15,76.04 L384.65,75.12 L385.15,74.2 L385.65,73.27 L386.15,72.34 L386.65,71.4 L387.15,70.46 L387.65,69.51 L388.15,68.56 L388.65,67.6 L389.15,66.64 L389.65,65.68 L390.15,64.72 L390.65,63.76 L391.15,62.79 L391.65,61.83 L392.15,60.86 L392.65,59.89 L393.15,58.92 L393.65,57.96 L394.15,56.99 L394.65,56.03 L395.15,55.07 L395.65,54.11 L396.15,53.15 L396.65,52.2 L397.15,51.25 L397.65,50.31 L398.15,49.37 L398.65,48.44 L399.15,47.51 L399.65,46.59 L400.15,45.68 L400.65,44.77 L401.15,43.87 L401.65,42.98 L402.15,42.1 L402.65,41.23 L403.15,40.37 L403.65,39.52 L404.15,38.68 L404.65,37.85 L405.15,37.04 L405.65,36.23 L406.15,35.44 L406.65,34.66 L407.15,33.9 L407.65,33.15 L408.15,32.42 L408.65,31.7 L409.15,30.99 L409.65,30.31 L410.15,29.64 L410.65,28.98 L411.15,28.34 L411.65,27.73 L412.15,27.12 L412.65,26.54 L413.15,25.98 L413.65,25.44 L414.15,24.91 L414.65,24.41 L415.15,23.92 L415.65,23.46 L416.15,23.02 L416.65,22.6 L417.15,22.2 L417.65,21.82 L418.15,21.46 L418.65,21.13 L419.15,20.82 L419.65,20.53 L420.15,20.27 L420.65,20.02 L421.15,19.81 L421.65,19.61 L422.15,19.44 L422.65,19.29 L423.15,19.16 L423.65,19.06 L424.15,18.99 L424.65,18.93 L425.15,18.91 L425.65,18.9 L426.15,18.92 L426.65,18.96 L427.15,19.03 L427.65,19.12 L428.15,19.24 L428.65,19.38 L429.15,19.54 L429.65,19.72 L430.15,19.93 L430.65,20.17 L431.15,20.42 L431.65,20.7 L432.15,21 L432.65,21.33 L433.15,21.67 L433.65,22.04 L434.15,22.43 L434.65,22.85 L435.15,23.28 L435.65,23.74 L436.15,24.21 L436.65,24.71 L437.15,25.22 L437.65,25.76 L438.15,26.31 L438.65,26.89 L439.15,27.48 L439.65,28.09 L440.15,28.72 L440.65,29.37 L441.15,30.04 L441.65,30.72 L442.15,31.41 L442.65,32.13 L443.15,32.86 L443.65,33.6 L444.15,34.36 L444.65,35.13 L445.15,35.92 L445.65,36.71 L446.15,37.53 L446.65,38.35 L447.15,39.18 L447.65,40.03 L448.15,40.89 L448.65,41.75 L449.15,42.63 L449.65,43.52 L450.15,44.41 L450.65,45.31 L451.15,46.23 L451.65,47.14 L452.15,48.07 L452.65,49 L453.15,49.93 L453.65,50.88 L454.15,51.82 L454.65,52.77 L455.15,53.73 L455.65,54.68 L456.15,55.64 L456.65,56.61 L457.15,57.57 L457.65,58.54 L458.15,59.5 L458.65,60.47 L459.15,61.44 L459.65,62.41 L460.15,63.37 L460.65,64.34 L461.15,65.3 L461.65,66.26 L462.15,67.22 L462.65,68.18 L463.15,69.13 L463.65,70.08 L464.15,71.02 L464.65,71.96 L465.15,72.9 L465.65,73.83 L466.15,74.76 L466.65,75.68 L467.15,76.59 L467.65,77.5 L468.15,78.4 L468.65,79.29 L469.15,80.18 L469.65,81.06 L470.15,81.93 L470.65,82.8 L471.15,83.65 L471.65,84.5 L472.15,85.34 L472.65,86.17 L473.15,86.99 L473.65,87.8 L474.15,88.61 L474.65,89.4 L475.15,90.19 L475.65,90.96 L476.15,91.73 L476.65,92.48 L477.15,93.23 L477.65,93.96 L478.15,94.68 L478.65,95.4 L479.15,96.1 L479.65,96.8 L480.15,97.48 L480.65,98.15 L481.15,98.81 L481.65,99.46 L482.15,100.1 L482.65,100.73 L483.15,101.35 L483.65,101.96 L484.15,102.56 L484.65,103.14 L485.15,103.72 L485.65,104.28 L486.15,104.84 L486.65,105.38 L487.15,105.91 L487.65,106.44 L488.15,106.95 L488.65,107.45 L489.15,107.94 L489.65,108.43 L490.15,108.9 L490.65,109.36 L491.15,109.81 L491.65,110.25 L492.15,110.68 L492.65,111.1 L493.15,111.52 L493.65,111.92 L494.15,112.31 L494.65,112.7 L495.15,113.07 L495.65,113.44 L496.15,113.8 L496.65,114.14 L497.15,114.48 L497.65,114.81 L498.15,115.14 L498.65,115.45 L499.15,115.76 L499.65,116.06 L500.15,116.35 L500.65,116.63 L501.15,116.9 L501.65,117.17 L502.15,117.43 L502.65,117.68 L503.15,117.93 L503.65,118.17 L504.15,118.4 L504.65,118.62 L505.15,118.84 L505.65,119.05 L506.15,119.26 L506.65,119.46 L507.15,119.65 L507.65,119.84 L508.15,120.02 L508.65,120.2 L509.15,120.37 L509.65,120.54 L510.15,120.7 L510.65,120.85 L511.15,121 L511.65,121.15 L512.15,121.29 L512.65,121.42 L513.15,121.55 L513.65,121.68 L514.15,121.8 L514.65,121.92 L515.15,122.04 L515.65,122.15 L516.15,122.25 L516.65,122.36 L517.15,122.46 L517.65,122.55 L518.15,122.64 L518.65,122.73 L519.15,122.82 L519.65,122.9 L520.15,122.98 L520.65,123.06 L521.15,123.13 L521.65,123.2 L522.15,123.27 L522.65,123.34 L523.15,123.4 L523.65,123.46 L524.15,123.52 L524.65,123.57 L525.15,123.63 L525.65,123.68 L526.15,123.73 L526.65,123.78 L527.15,123.82 L527.65,123.87 L528.15,123.91 L528.65,123.95 L529.15,123.99 L529.65,124.03 L530.15,124.06 L530.65,124.1 L531.15,124.13 L531.65,124.16 L532.15,124.19 L532.65,124.22 L533.15,124.25 L533.65,124.27 L534.15,124.3 L534.65,124.32 L535.15,124.35 L535.65,124.37 L536.15,124.39 L536.65,124.41 L537.15,124.43 L537.65,124.45 L538.15,124.47 L538.65,124.48 L539.15,124.5 L539.65,124.51 L540.15,124.53 L540.65,124.54 L541.15,124.55 L541.65,124.57 L542.15,124.58 L542.65,124.59 L543.15,124.6 L543.65,124.61" stroke="#b45cff"/>
<path d="M321.65,124.66 L322.15,124.65 L322.65,124.64 L323.15,124.63 L323.65,124.62 L324.15,124.61 L324.65,124.6 L325.15,124.59 L325.65,124.58 L326.15,124.56 L326.65,124.55 L327.15,124.53 L327.65,124.52 L328.15,124.5 L328.65,124.48 L329.15,124.46 L329.65,124.44 L330.15,124.42 L330.65,124.4 L331.15,124.38 L331.65,124.35 L332.15,124.32 L332.65,124.3 L333.15,124.27 L333.65,124.24 L334.15,124.21 L334.65,124.17 L335.15,124.14 L335.65,124.1 L336.15,124.06 L336.65,124.02 L337.15,123.98 L337.65,123.93 L338.15,123.89 L338.65,123.84 L339.15,123.79 L339.65,123.73 L340.15,123.68 L340.65,123.62 L341.15,123.56 L341.65,123.49 L342.15,123.42 L342.65,123.35 L343.15,123.28 L343.65,123.2 L344.15,123.12 L344.65,123.04 L345.15,122.95 L345.65,122.86 L346.15,122.76 L346.65,122.66 L347.15,122.56 L347.65,122.45 L348.15,122.33 L348.65,122.22 L349.15,122.09 L349.65,121.97 L350.15,121.83 L350.65,121.7 L351.15,121.55 L351.65,121.4 L352.15,121.25 L352.65,121.09 L353.15,120.92 L353.65,120.75 L354.15,120.57 L354.65,120.38 L355.15,120.19 L355.65,119.99 L356.15,119.78 L356.65,119.56 L357.15,119.34 L357.65,119.11 L358.15,118.87 L358.65,118.62 L359.15,118.37 L359.65,118.1 L360.15,117.83 L360.65,117.55 L361.15,117.26 L361.65,116.96 L362.15,116.65 L362.65,116.33 L363.15,116 L363.65,115.66 L364.15,115.31 L364.65,114.94 L365.15,114.57 L365.65,114.19 L366.15,113.8 L366.65,113.39 L367.15,112.97 L367.65,112.54 L368.15,112.1 L368.65,111.65 L369.15,111.19 L369.65,110.71 L370.15,110.22 L370.65,109.72 L371.15,109.21 L371.65,108.68 L372.15,108.14 L372.65,107.58 L373.15,107.02 L373.65,106.44 L374.15,105.84 L374.65,105.24 L375.15,104.62 L375.65,103.98 L376.15,103.34 L376.65,102.67 L377.15,102 L377.65,101.31 L378.15,100.61 L378.65,99.89 L379.15,99.16 L379.65,98.42 L380.15,97.66 L380.65,96.89 L381.15,96.11 L381.65,95.31 L382.15,94.5 L382.65,93.67 L383.15,92.83 L383.65,91.98 L384.15,91.12 L384.65,90.24 L385.15,89.35 L385.65,88.45 L386.15,87.54 L386.65,86.62 L387.15,85.68 L387.65,84.73 L388.15,83.77 L388.65,82.8 L389.15,81.82 L389.65,80.83 L390.15,79.83 L390.65,78.82 L391.15,77.81 L391.65,76.78 L392.15,75.75 L392.65,74.7 L393.15,73.65 L393.65,72.6 L394.15,71.53 L394.65,70.47 L395.15,69.39 L395.65,68.31 L396.15,67.23 L396.65,66.14 L397.15,65.06 L397.65,63.96 L398.15,62.87 L398.65,61.77 L399.15,60.68 L399.65,59.58 L400.15,58.49 L400.65,57.39 L401.15,56.3 L401.65,55.21 L402.15,54.12 L402.65,53.04 L403.15,51.96 L403.65,50.89 L404.15,49.82 L404.65,48.76 L405.15,47.71 L405.65,46.67 L406.15,45.63 L406.65,44.61 L407.15,43.59 L407.65,42.59 L408.15,41.6 L408.65,40.62 L409.15,39.65 L409.65,38.7 L410.15,37.76 L410.65,36.84 L411.15,35.93 L411.65,35.04 L412.15,34.17 L412.65,33.31 L413.15,32.48 L413.65,31.66 L414.15,30.87 L414.65,30.09 L415.15,29.34 L415.65,28.61 L416.15,27.9 L416.65,27.22 L417.15,26.55 L417.65,25.92 L418.15,25.31 L418.65,24.72 L419.15,24.16 L419.65,23.62 L420.15,23.11 L420.65,22.63 L421.15,22.18 L421.65,21.75 L422.15,21.36 L422.65,20.99 L423.15,20.65 L423.65,20.34 L424.15,20.06 L424.65,19.81 L425.15,19.59 L425.65,19.4 L426.15,19.24 L426.65,19.11 L427.15,19.01 L427.65,18.94 L428.15,18.91 L428.65,18.9 L429.15,18.93 L429.65,18.98 L430.15,19.07 L430.65,19.18 L431.15,19.33 L431.65,19.5 L432.15,19.71 L432.65,19.94 L433.15,20.21 L433.65,20.5 L434.15,20.82 L434.65,21.18 L435.15,21.56 L435.65,21.97 L436.15,22.4 L436.65,22.87 L437.15,23.36 L437.65,23.87 L438.15,24.42 L438.65,24.99 L439.15,25.58 L439.65,26.2 L440.15,26.84 L440.65,27.51 L441.15,28.2 L441.65,28.92 L442.15,29.65 L442.65,30.41 L443.15,31.19 L443.65,31.98 L444.15,32.8 L444.65,33.64 L445.15,34.49 L445.65,35.37 L446.15,36.26 L446.65,37.16 L447.15,38.08 L447.65,39.02 L448.15,39.97 L448.65,40.93 L449.15,41.91 L449.65,42.9 L450.15,43.9 L450.65,44.91 L451.15,45.93 L451.65,46.97 L452.15,48.01 L452.65,49.05 L453.15,50.11 L453.65,51.17 L454.15,52.23 L454.65,53.31 L455.15,54.38 L455.65,55.46 L456.15,56.55 L456.65,57.63 L457.15,58.72 L457.65,59.81 L458.15,60.9 L458.65,61.98 L459.15,63.07 L459.65,64.16 L460.15,65.24 L460.65,66.32 L461.15,67.4 L461.65,68.48 L462.15,69.55 L462.65,70.61 L463.15,71.67 L463.65,72.73 L464.15,73.78 L464.65,74.82 L465.15,75.85 L465.65,76.88 L466.15,77.9 L466.65,78.91 L467.15,79.91 L467.65,80.9 L468.15,81.88 L468.65,82.86 L469.15,83.82 L469.65,84.77 L470.15,85.71 L470.65,86.64 L471.15,87.56 L471.65,88.47 L472.15,89.36 L472.65,90.24 L473.15,91.11 L473.65,91.97 L474.15,92.82 L474.65,93.65 L475.15,94.47 L475.65,95.28 L476.15,96.07 L476.65,96.85 L477.15,97.62 L477.65,98.37 L478.15,99.11 L478.65,99.83 L479.15,100.55 L479.65,101.25 L480.15,101.93 L480.65,102.6 L481.15,103.26 L481.65,103.91 L482.15,104.54 L482.65,105.16 L483.15,105.76 L483.65,106.35 L484.15,106.93 L484.65,107.49 L485.15,108.05 L485.65,108.58 L486.15,109.11 L486.65,109.62 L487.15,110.12 L487.65,110.61 L488.15,111.09 L488.65,111.55 L489.15,112 L489.65,112.44 L490.15,112.87 L490.65,113.29 L491.15,113.7 L491.65,114.09 L492.15,114.47 L492.65,114.84 L493.15,115.21 L493.65,115.56 L494.15,115.9 L494.65,116.23 L495.15,116.55 L495.65,116.86 L496.15,117.16 L496.65,117.45 L497.15,117.74 L497.65,118.01 L498.15,118.28 L498.65,118.53 L499.15,118.78 L499.65,119.02 L500.15,119.25 L500.65,119.48 L501.15,119.7 L501.65,119.91 L502.15,120.11 L502.65,120.3 L503.15,120.49 L503.65,120.67 L504.15,120.85 L504.65,121.02 L505.15,121.18 L505.65,121.33 L506.15,121.49 L506.65,121.63 L507.15,121.77 L507.65,121.9 L508.15,122.03 L508.65,122.16 L509.15,122.28 L509.65,122.39 L510.15,122.5 L510.65,122.61 L511.15,122.71 L511.65,122.81 L512.15,122.9 L512.65,122.99 L513.15,123.07 L513.65,123.16 L514.15,123.24 L514.65,123.31 L515.15,123.38 L515.65,123.45 L516.15,123.52 L516.65,123.58 L517.15,123.64 L517.65,123.7 L518.15,123.75 L518.65,123.81 L519.15,123.86 L519.65,123.91 L520.15,123.95 L520.65,123.99 L521.15,124.04 L521.65,124.08 L522.15,124.11 L522.65,124.15 L523.15,124.18 L523.65,124.22 L524.15,124.25 L524.65,124.28 L525.15,124.31 L525.65,124.33 L526.15,124.36 L526.65,124.38 L527.15,124.41 L527.65,124.43 L528.15,124.45 L528.65,124.47 L529.15,124.49 L529.65,124.5 L530.15,124.52 L530.65,124.54 L531.15,124.55 L531.65,124.57 L532.15,124.58 L532.65,124.59 L533.15,124.6 L533.65,124.62 L534.15,124.63 L534.65,124.64 L535.15,124.65 L535.65,124.66 L536.15,124.66 L536.65,124.67 L537.15,124.68 L537.65,124.69 L538.15,124.69 L538.65,124.7 L539.15,124.71 L539.65,124.71 L540.15,124.72 L540.65,124.72 L541.15,124.73 L541.65,124.73 L542.15,124.74 L542.65,124.74 L543.15,124.74 L543.65,124.75" stroke="#ff4d4d"/>
<path d="M321.65,124.8 L322.15,124.8 L322.65,124.8 L323.15,124.8 L323.65,124.8 L324.15,124.8 L324.65,124.8 L325.15,124.8 L325.65,124.8 L326.15,124.8 L326.65,124.8 L327.15,124.8 L327.65,124.8 L328.15,124.79 L328.65,124.79 L329.15,124.79 L329.65,124.79 L330.15,124.79 L330.65,124.79 L331.15,124.79 L331.65,124.79 L332.15,124.79 L332.65,124.79 L333.15,124.79 L333.65,124.78 L334.15,124.78 L334.65,124.78 L335.15,124.78 L335.65,124.78 L336.15,124.78 L336.65,124.77 L337.15,124.77 L337.65,124.77 L338.15,124.77 L338.65,124.76 L339.15,124.76 L339.65,124.76 L340.15,124.75 L340.65,124.75 L341.15,124.74 L341.65,124.74 L342.15,124.73 L342.65,124.73 L343.15,124.72 L343.65,124.72 L344.15,124.71 L344.65,124.7 L345.15,124.69 L345.65,124.68 L346.15,124.67 L346.65,124.66 L347.15,124.65 L347.65,124.64 L348.15,124.63 L348.65,124.61 L349.15,124.6 L349.65,124.58 L350.15,124.57 L350.65,124.55 L351.15,124.53 L351.65,124.51 L352.15,124.49 L352.65,124.46 L353.15,124.44 L353.65,124.41 L354.15,124.38 L354.65,124.35 L355.15,124.32 L355.65,124.28 L356.15,124.24 L356.65,124.2 L357.15,124.16 L357.65,124.11 L358.15,124.07 L358.65,124.01 L359.15,123.96 L359.65,123.9 L360.15,123.84 L360.65,123.77 L361.15,123.7 L361.65,123.63 L362.15,123.55 L362.65,123.47 L363.15,123.38 L363.65,123.29 L364.15,123.19 L364.65,123.09 L365.15,122.98 L365.65,122.87 L366.15,122.75 L366.65,122.62 L367.15,122.48 L367.65,122.34 L368.15,122.19 L368.65,122.04 L369.15,121.87 L369.65,121.7 L370.15,121.52 L370.65,121.33 L371.15,121.13 L371.65,120.91 L372.15,120.69 L372.65,120.46 L373.15,120.22 L373.65,119.97 L374.15,119.7 L374.65,119.43 L375.15,119.14 L375.65,118.84 L376.15,118.52 L376.65,118.19 L377.15,117.85 L377.65,117.49 L378.15,117.12 L378.65,116.74 L379.15,116.33 L379.65,115.92 L380.15,115.48 L380.65,115.03 L381.15,114.56 L381.65,114.08 L382.15,113.57 L382.65,113.05 L383.15,112.51 L383.65,111.95 L384.15,111.37 L384.65,110.77 L385.15,110.16 L385.65,109.52 L386.15,108.86 L386.65,108.18 L387.15,107.48 L387.65,106.76 L388.15,106.02 L388.65,105.26 L389.15,104.47 L389.65,103.66 L390.15,102.83 L390.65,101.98 L391.15,101.11 L391.65,100.22 L392.15,99.3 L392.65,98.36 L393.15,97.4 L393.65,96.42 L394.15,95.42 L394.65,94.39 L395.15,93.35 L395.65,92.28 L396.15,91.19 L396.65,90.08 L397.15,88.96 L397.65,87.81 L398.15,86.65 L398.65,85.46 L399.15,84.26 L399.65,83.04 L400.15,81.8 L400.65,80.55 L401.15,79.28 L401.65,78 L402.15,76.71 L402.65,75.4 L403.15,74.08 L403.65,72.75 L404.15,71.4 L404.65,70.05 L405.15,68.69 L405.65,67.33 L406.15,65.95 L406.65,64.58 L407.15,63.2 L407.65,61.81 L408.15,60.43 L408.65,59.05 L409.15,57.66 L409.65,56.28 L410.15,54.91 L410.65,53.54 L411.15,52.17 L411.65,50.82 L412.15,49.47 L412.65,48.14 L413.15,46.82 L413.65,45.51 L414.15,44.22 L414.65,42.94 L415.15,41.69 L415.65,40.45 L416.15,39.23 L416.65,38.04 L417.15,36.87 L417.65,35.73 L418.15,34.62 L418.65,33.53 L419.15,32.47 L419.65,31.44 L420.15,30.45 L420.65,29.49 L421.15,28.57 L421.65,27.68 L422.15,26.82 L422.65,26.01 L423.15,25.24 L423.65,24.5 L424.15,23.81 L424.65,23.16 L425.15,22.56 L425.65,21.99 L426.15,21.48 L426.65,21.01 L427.15,20.58 L427.65,20.2 L428.15,19.87 L428.65,19.59 L429.15,19.35 L429.65,19.17 L430.15,19.03 L430.65,18.94 L431.15,18.9 L431.65,18.91 L432.15,18.96 L432.65,19.06 L433.15,19.2 L433.65,19.39 L434.15,19.61 L434.65,19.89 L435.15,20.2 L435.65,20.56 L436.15,20.95 L436.65,21.4 L437.15,21.88 L437.65,22.4 L438.15,22.96 L438.65,23.56 L439.15,24.2 L439.65,24.88 L440.15,25.59 L440.65,26.34 L441.15,27.12 L441.65,27.94 L442.15,28.79 L442.65,29.68 L443.15,30.59 L443.65,31.53 L444.15,32.51 L444.65,33.51 L445.15,34.54 L445.65,35.59 L446.15,36.67 L446.65,37.77 L447.15,38.9 L447.65,40.04 L448.15,41.2 L448.65,42.39 L449.15,43.59 L449.65,44.8 L450.15,46.03 L450.65,47.27 L451.15,48.53 L451.65,49.8 L452.15,51.07 L452.65,52.36 L453.15,53.65 L453.65,54.95 L454.15,56.25 L454.65,57.56 L455.15,58.86 L455.65,60.18 L456.15,61.49 L456.65,62.8 L457.15,64.1 L457.65,65.41 L458.15,66.71 L458.65,68.01 L459.15,69.3 L459.65,70.58 L460.15,71.86 L460.65,73.13 L461.15,74.39 L461.65,75.63 L462.15,76.87 L462.65,78.1 L463.15,79.31 L463.65,80.51 L464.15,81.7 L464.65,82.87 L465.15,84.03 L465.65,85.17 L466.15,86.29 L466.65,87.4 L467.15,88.5 L467.65,89.57 L468.15,90.63 L468.65,91.67 L469.15,92.69 L469.65,93.69 L470.15,94.68 L470.65,95.64 L471.15,96.59 L471.65,97.52 L472.15,98.42 L472.65,99.31 L473.15,100.18 L473.65,101.03 L474.15,101.86 L474.65,102.67 L475.15,103.46 L475.65,104.23 L476.15,104.98 L476.65,105.71 L477.15,106.42 L477.65,107.11 L478.15,107.78 L478.65,108.44 L479.15,109.07 L479.65,109.69 L480.15,110.29 L480.65,110.87 L481.15,111.44 L481.65,111.98 L482.15,112.51 L482.65,113.02 L483.15,113.52 L483.65,114 L484.15,114.46 L484.65,114.91 L485.15,115.34 L485.65,115.76 L486.15,116.16 L486.65,116.55 L487.15,116.92 L487.65,117.28 L488.15,117.63 L488.65,117.96 L489.15,118.28 L489.65,118.59 L490.15,118.88 L490.65,119.17 L491.15,119.44 L491.65,119.7 L492.15,119.95 L492.65,120.19 L493.15,120.42 L493.65,120.65 L494.15,120.86 L494.65,121.06 L495.15,121.25 L495.65,121.44 L496.15,121.61 L496.65,121.78 L497.15,121.94 L497.65,122.09 L498.15,122.24 L498.65,122.38 L499.15,122.51 L499.65,122.64 L500.15,122.76 L500.65,122.87 L501.15,122.98 L501.65,123.08 L502.15,123.18 L502.65,123.28 L503.15,123.36 L503.65,123.45 L504.15,123.53 L504.65,123.6 L505.15,123.67 L505.65,123.74 L506.15,123.8 L506.65,123.86 L507.15,123.92 L507.65,123.98 L508.15,124.03 L508.65,124.07 L509.15,124.12 L509.65,124.16 L510.15,124.2 L510.65,124.24 L511.15,124.28 L511.65,124.31 L512.15,124.34 L512.65,124.37 L513.15,124.4 L513.65,124.43 L514.15,124.45 L514.65,124.48 L515.15,124.5 L515.65,124.52 L516.15,124.54 L516.65,124.55 L517.15,124.57 L517.65,124.59 L518.15,124.6 L518.65,124.62 L519.15,124.63 L519.65,124.64 L520.15,124.65 L520.65,124.66 L521.15,124.67 L521.65,124.68 L522.15,124.69 L522.65,124.7 L523.15,124.71 L523.65,124.71 L524.15,124.72 L524.65,124.73 L525.15,124.73 L525.65,124.74 L526.15,124.74 L526.65,124.75 L527.15,124.75 L527.65,124.75 L528.15,124.76 L528.65,124.76 L529.15,124.76 L529.65,124.77 L530.15,124.77 L530.65,124.77 L531.15,124.77 L531.65,124.78 L532.15,124.78 L532.65,124.78 L533.15,124.78 L533.65,124.78 L534.15,124.78 L534.65,124.79 L535.15,124.79 L535.65,124.79 L536.15,124.79 L536.65,124.79 L537.15,124.79 L537.65,124.79 L538.15,124.79 L538.65,124.79 L539.15,124.79 L539.65,124.79 L540.15,124.79 L540.65,124.79 L541.15,124.8 L541.65,124.8 L542.15,124.8 L542.65,124.8 L543.15,124.8 L543.65,124.8" stroke="#7aae74"/>
<path d="M321.65,124.8 L322.15,124.8 L322.65,124.8 L323.15,124.8 L323.65,124.8 L324.15,124.8 L324.65,124.8 L325.15,124.8 L325.65,124.8 L326.15,124.8 L326.65,124.8 L327.15,124.8 L327.65,124.8 L328.15,124.8 L328.65,124.8 L329.15,124.8 L329.65,124.8 L330.15,124.8 L330.65,124.8 L331.15,124.8 L331.65,124.8 L332.15,124.8 L332.65,124.8 L333.15,124.8 L333.65,124.8 L334.15,124.8 L334.65,124.8 L335.15,124.8 L335.65,124.8 L336.15,124.8 L336.65,124.8 L337.15,124.8 L337.65,124.8 L338.15,124.8 L338.65,124.8 L339.15,124.8 L339.65,124.8 L340.15,124.8 L340.65,124.8 L341.15,124.8 L341.65,124.8 L342.15,124.8 L342.65,124.8 L343.15,124.8 L343.65,124.8 L344.15,124.8 L344.65,124.8 L345.15,124.8 L345.65,124.8 L346.15,124.8 L346.65,124.8 L347.15,124.8 L347.65,124.8 L348.15,124.8 L348.65,124.8 L349.15,124.8 L349.65,124.8 L350.15,124.8 L350.65,124.8 L351.15,124.8 L351.65,124.8 L352.15,124.8 L352.65,124.8 L353.15,124.8 L353.65,124.8 L354.15,124.8 L354.65,124.8 L355.15,124.8 L355.65,124.8 L356.15,124.8 L356.65,124.8 L357.15,124.8 L357.65,124.8 L358.15,124.79 L358.65,124.79 L359.15,124.79 L359.65,124.79 L360.15,124.79 L360.65,124.79 L361.15,124.79 L361.65,124.79 L362.15,124.79 L362.65,124.78 L363.15,124.78 L363.65,124.78 L364.15,124.78 L364.65,124.77 L365.15,124.77 L365.65,124.76 L366.15,124.76 L366.65,124.76 L367.15,124.75 L367.65,124.74 L368.15,124.74 L368.65,124.73 L369.15,124.72 L369.65,124.71 L370.15,124.7 L370.65,124.69 L371.15,124.67 L371.65,124.66 L372.15,124.64 L372.65,124.62 L373.15,124.6 L373.65,124.58 L374.15,124.56 L374.65,124.53 L375.15,124.5 L375.65,124.47 L376.15,124.43 L376.65,124.39 L377.15,124.35 L377.65,124.3 L378.15,124.25 L378.65,124.19 L379.15,124.13 L379.65,124.06 L380.15,123.98 L380.65,123.9 L381.15,123.81 L381.65,123.72 L382.15,123.61 L382.65,123.5 L383.15,123.38 L383.65,123.24 L384.15,123.1 L384.65,122.95 L385.15,122.78 L385.65,122.6 L386.15,122.41 L386.65,122.2 L387.15,121.97 L387.65,121.73 L388.15,121.48 L388.65,121.2 L389.15,120.9 L389.65,120.59 L390.15,120.25 L390.65,119.89 L391.15,119.51 L391.65,119.1 L392.15,118.67 L392.65,118.21 L393.15,117.72 L393.65,117.21 L394.15,116.66 L394.65,116.08 L395.15,115.47 L395.65,114.83 L396.15,114.15 L396.65,113.44 L397.15,112.68 L397.65,111.9 L398.15,111.07 L398.65,110.2 L399.15,109.3 L399.65,108.35 L400.15,107.36 L400.65,106.33 L401.15,105.26 L401.65,104.14 L402.15,102.98 L402.65,101.78 L403.15,100.53 L403.65,99.23 L404.15,97.9 L404.65,96.52 L405.15,95.1 L405.65,93.63 L406.15,92.12 L406.65,90.58 L407.15,88.99 L407.65,87.36 L408.15,85.7 L408.65,84 L409.15,82.26 L409.65,80.49 L410.15,78.7 L410.65,76.87 L411.15,75.02 L411.65,73.14 L412.15,71.24 L412.65,69.33 L413.15,67.4 L413.65,65.45 L414.15,63.5 L414.65,61.55 L415.15,59.59 L415.65,57.63 L416.15,55.68 L416.65,53.74 L417.15,51.81 L417.65,49.9 L418.15,48.01 L418.65,46.15 L419.15,44.32 L419.65,42.52 L420.15,40.75 L420.65,39.03 L421.15,37.36 L421.65,35.73 L422.15,34.16 L422.65,32.65 L423.15,31.2 L423.65,29.82 L424.15,28.5 L424.65,27.26 L425.15,26.09 L425.65,25 L426.15,23.99 L426.65,23.07 L427.15,22.24 L427.65,21.49 L428.15,20.84 L428.65,20.27 L429.15,19.81 L429.65,19.43 L430.15,19.16 L430.65,18.98 L431.15,18.9 L431.65,18.92 L432.15,19.04 L432.65,19.26 L433.15,19.57 L433.65,19.98 L434.15,20.49 L434.65,21.09 L435.15,21.78 L435.65,22.56 L436.15,23.43 L436.65,24.39 L437.15,25.43 L437.65,26.55 L438.15,27.75 L438.65,29.02 L439.15,30.36 L439.65,31.77 L440.15,33.25 L440.65,34.79 L441.15,36.38 L441.65,38.02 L442.15,39.72 L442.65,41.45 L443.15,43.23 L443.65,45.05 L444.15,46.89 L444.65,48.77 L445.15,50.66 L445.65,52.58 L446.15,54.52 L446.65,56.46 L447.15,58.42 L447.65,60.37 L448.15,62.33 L448.65,64.29 L449.15,66.23 L449.65,68.17 L450.15,70.1 L450.65,72 L451.15,73.89 L451.65,75.76 L452.15,77.6 L452.65,79.42 L453.15,81.2 L453.65,82.96 L454.15,84.68 L454.65,86.37 L455.15,88.02 L455.65,89.63 L456.15,91.2 L456.65,92.73 L457.15,94.22 L457.65,95.67 L458.15,97.08 L458.65,98.44 L459.15,99.76 L459.65,101.03 L460.15,102.26 L460.65,103.45 L461.15,104.59 L461.65,105.69 L462.15,106.75 L462.65,107.76 L463.15,108.73 L463.65,109.67 L464.15,110.56 L464.65,111.41 L465.15,112.22 L465.65,112.99 L466.15,113.73 L466.65,114.42 L467.15,115.09 L467.65,115.72 L468.15,116.32 L468.65,116.88 L469.15,117.42 L469.65,117.92 L470.15,118.4 L470.65,118.85 L471.15,119.27 L471.65,119.67 L472.15,120.04 L472.65,120.39 L473.15,120.72 L473.65,121.03 L474.15,121.31 L474.65,121.58 L475.15,121.83 L475.65,122.07 L476.15,122.28 L476.65,122.49 L477.15,122.67 L477.65,122.85 L478.15,123.01 L478.65,123.16 L479.15,123.3 L479.65,123.43 L480.15,123.55 L480.65,123.66 L481.15,123.76 L481.65,123.85 L482.15,123.93 L482.65,124.01 L483.15,124.08 L483.65,124.15 L484.15,124.21 L484.65,124.27 L485.15,124.32 L485.65,124.36 L486.15,124.41 L486.65,124.44 L487.15,124.48 L487.65,124.51 L488.15,124.54 L488.65,124.57 L489.15,124.59 L489.65,124.61 L490.15,124.63 L490.65,124.65 L491.15,124.66 L491.65,124.68 L492.15,124.69 L492.65,124.7 L493.15,124.71 L493.65,124.72 L494.15,124.73 L494.65,124.74 L495.15,124.75 L495.65,124.75 L496.15,124.76 L496.65,124.76 L497.15,124.77 L497.65,124.77 L498.15,124.77 L498.65,124.78 L499.15,124.78 L499.65,124.78 L500.15,124.78 L500.65,124.79 L501.15,124.79 L501.65,124.79 L502.15,124.79 L502.65,124.79 L503.15,124.79 L503.65,124.79 L504.15,124.79 L504.65,124.8 L505.15,124.8 L505.65,124.8 L506.15,124.8 L506.65,124.8 L507.15,124.8 L507.65,124.8 L508.15,124.8 L508.65,124.8 L509.15,124.8 L509.65,124.8 L510.15,124.8 L510.65,124.8 L511.15,124.8 L511.65,124.8 L512.15,124.8 L512.65,124.8 L513.15,124.8 L513.65,124.8 L514.15,124.8 L514.65,124.8 L515.15,124.8 L515.65,124.8 L516.15,124.8 L516.65,124.8 L517.15,124.8 L517.65,124.8 L518.15,124.8 L518.65,124.8 L519.15,124.8 L519.65,124.8 L520.15,124.8 L520.65,124.8 L521.15,124.8 L521.65,124.8 L522.15,124.8 L522.65,124.8 L523.15,124.8 L523.65,124.8 L524.15,124.8 L524.65,124.8 L525.15,124.8 L525.65,124.8 L526.15,124.8 L526.65,124.8 L527.15,124.8 L527.65,124.8 L528.15,124.8 L528.65,124.8 L529.15,124.8 L529.65,124.8 L530.15,124.8 L530.65,124.8 L531.15,124.8 L531.65,124.8 L532.15,124.8 L532.65,124.8 L533.15,124.8 L533.65,124.8 L534.15,124.8 L534.65,124.8 L535.15,124.8 L535.65,124.8 L536.15,124.8 L536.65,124.8 L537.15,124.8 L537.65,124.8 L538.15,124.8 L538.65,124.8 L539.15,124.8 L539.65,124.8 L540.15,124.8 L540.65,124.8 L541.15,124.8 L541.65,124.8 L542.15,124.8 L542.65,124.8 L543.15,124.8 L543.65,124.8" stroke="#3d9bff"/>
</g>
<rect x="321.15" y="8.8" width="223.35" height="116" fill="none" stroke="#3a3a3a" stroke-width="1.0"/>
<path d="M321.05,124.8 v-2.2 M340.26,124.8 v-1.3 M359.48,124.8 v-2.2 M378.69,124.8 v-1.3 M397.91,124.8 v-2.2 M417.12,124.8 v-1.3 M436.34,124.8 v-2.2 M455.56,124.8 v-1.3 M474.77,124.8 v-2.2 M493.99,124.8 v-1.3 M513.2,124.8 v-2.2 M532.41,124.8 v-1.3 M321.15,124.8 h2.2 M321.15,98.32 h1.3 M321.15,71.85 h2.2 M321.15,45.37 h1.3 M321.15,18.9 h2.2" stroke="#333" stroke-width="0.7" fill="none"/>
<text transform="translate(319.55,131.10) scale(1.280,1)" font-family="'Liberation Sans', Arial, sans-serif" font-weight="bold" font-size="4.80" fill="#505050">0</text>
<text transform="translate(354.49,131.10) scale(1.280,1)" font-family="'Liberation Sans', Arial, sans-serif" font-weight="bold" font-size="4.80" fill="#505050">100</text>
<text transform="translate(393.00,131.10) scale(1.280,1)" font-family="'Liberation Sans', Arial, sans-serif" font-weight="bold" font-size="4.80" fill="#505050">200</text>
<text transform="translate(431.47,131.10) scale(1.280,1)" font-family="'Liberation Sans', Arial, sans-serif" font-weight="bold" font-size="4.80" fill="#505050">300</text>
<text transform="translate(469.92,131.10) scale(1.280,1)" font-family="'Liberation Sans', Arial, sans-serif" font-weight="bold" font-size="4.80" fill="#505050">400</text>
<text transform="translate(508.31,131.10) scale(1.280,1)" font-family="'Liberation Sans', Arial, sans-serif" font-weight="bold" font-size="4.80" fill="#505050">500</text>
<text transform="translate(309.58,126.59) scale(1.200,1)" font-family="'Liberation Sans', Arial, sans-serif" font-weight="bold" font-size="5.20" fill="#505050">0.0</text>
<text transform="translate(309.50,73.64) scale(1.200,1)" font-family="'Liberation Sans', Arial, sans-serif" font-weight="bold" font-size="5.20" fill="#505050">0.5</text>
<text transform="translate(309.58,20.69) scale(1.200,1)" font-family="'Liberation Sans', Arial, sans-serif" font-weight="bold" font-size="5.20" fill="#505050">1.0</text>
<text transform="translate(401.87,140.90) scale(1.461,1)" font-family="'Liberation Sans', Arial, sans-serif" font-weight="bold" font-size="6.40" fill="#111" xml:space="preserve">Distance (nm)</text>
<text stroke="#111" stroke-width="0.2" transform="translate(302.40,103.44) rotate(-90) scale(0.946,1)" font-family="'Liberation Sans', Arial, sans-serif" font-weight="bold" font-size="7.00" fill="#111">Normalized intensity</text>
<line x1="464" y1="14.1" x2="481" y2="14.1" stroke="#b45cff" stroke-width="1.3" opacity="0.6"/>
<text stroke="#2a2a2a" stroke-width="0.15" transform="translate(482.65,15.70) scale(1.328,1)" font-family="'Liberation Sans', Arial, sans-serif" font-size="5.23" fill="#2a2a2a" xml:space="preserve">Confocal</text>
<line x1="464" y1="20.0" x2="481" y2="20.0" stroke="#ff4d4d" stroke-width="1.3" opacity="0.6"/>
<text stroke="#2a2a2a" stroke-width="0.15" transform="translate(482.68,21.80) scale(1.287,1)" font-family="'Liberation Sans', Arial, sans-serif" font-size="5.52" fill="#2a2a2a" xml:space="preserve">STED (3.5 mW)</text>
<line x1="464" y1="25.8" x2="481" y2="25.8" stroke="#7aae74" stroke-width="1.3" opacity="0.6"/>
<text stroke="#2a2a2a" stroke-width="0.15" transform="translate(482.68,27.70) scale(1.327,1)" font-family="'Liberation Sans', Arial, sans-serif" font-size="5.38" fill="#2a2a2a" xml:space="preserve">STED (35 mW)</text>
<line x1="464" y1="32.0" x2="481" y2="32.0" stroke="#3d9bff" stroke-width="1.3" opacity="0.6"/>
<text stroke="#2a2a2a" stroke-width="0.15" transform="translate(482.41,34.00) scale(1.273,1)" font-family="'Liberation Sans', Arial, sans-serif" font-size="5.67" fill="#2a2a2a" xml:space="preserve">DE-STED (K = 10)</text>
<text stroke="#a040ff" stroke-width="0.12" transform="translate(342.16,69.30) scale(1.069,1)" font-family="'Liberation Sans', Arial, sans-serif" font-size="6.40" fill="#a040ff" xml:space="preserve">202 nm</text>
<path d="M361.6,71.9 H385.5" stroke="#a040ff" stroke-width="0.9"/><path d="M386.3,71.9 l-3,-1.4 v2.8 z" fill="#a040ff"/>
<path d="M390.3,71.9 H403.6" stroke="#5d9a58" stroke-width="0.9"/><path d="M404.4,71.9 l-3,-1.4 v2.8 z" fill="#5d9a58"/>
<text stroke="#5d9a58" stroke-width="0.12" transform="translate(390.97,80.10) scale(1.082,1)" font-family="'Liberation Sans', Arial, sans-serif" font-size="6.40" fill="#5d9a58" xml:space="preserve">140 nm</text>
<path d="M413.2,71.9 H451" stroke="#2b8cff" stroke-width="0.9"/><path d="M412.4,71.9 l3,-1.4 v2.8 z M451.8,71.9 l-3,-1.4 v2.8 z" fill="#2b8cff"/>
<text stroke="#2b8cff" stroke-width="0.12" transform="translate(421.16,69.30) scale(1.107,1)" font-family="'Liberation Sans', Arial, sans-serif" font-size="6.40" fill="#2b8cff" xml:space="preserve">101 nm</text>
<path d="M465.5,72.2 H486.4" stroke="#ff3b3b" stroke-width="0.9"/><path d="M464.7,72.2 l3,-1.4 v2.8 z" fill="#ff3b3b"/>
<text stroke="#ff3b3b" stroke-width="0.12" transform="translate(470.87,69.70) scale(1.087,1)" font-family="'Liberation Sans', Arial, sans-serif" font-size="6.40" fill="#ff3b3b" xml:space="preserve">179 nm</text>
<text transform="translate(294.46,152.10) scale(1.248,1)" font-family="'Liberation Serif', 'Times New Roman', serif" font-weight="bold" font-size="8.00" fill="#111" stroke="#111" stroke-width="0.12" xml:space="preserve">(f)</text>
<rect x="321.4" y="147.5" width="223.9" height="117.8" fill="none" stroke="#3a3a3a" stroke-width="1.0"/>
<path d="M332.1,265.3 v-2.0 M348.11,265.3 v-1.2 M364.11,265.3 v-2.0 M380.12,265.3 v-1.2 M396.12,265.3 v-2.0 M412.12,265.3 v-1.2 M428.13,265.3 v-2.0 M444.13,265.3 v-1.2 M460.14,265.3 v-2.0 M476.14,265.3 v-1.2 M492.15,265.3 v-2.0 M508.16,265.3 v-1.2 M524.16,265.3 v-2.0 M540.16,265.3 v-1.2 M321.4,264.95 h1.2 M321.4,255.9 h2.0 M321.4,246.85 h1.2 M321.4,237.8 h2.0 M321.4,228.75 h1.2 M321.4,219.7 h2.0 M321.4,210.65 h1.2 M321.4,201.6 h2.0 M321.4,192.55 h1.2 M321.4,183.5 h2.0 M321.4,174.45 h1.2 M321.4,165.4 h2.0 M321.4,156.35 h1.2" stroke="#333" stroke-width="0.7" fill="none"/>
<text transform="translate(330.41,271.52) scale(1.300,1)" font-family="'Liberation Sans', Arial, sans-serif" font-weight="bold" font-size="4.70" fill="#4a4a4a">0</text>
<text transform="translate(362.45,271.51) scale(1.300,1)" font-family="'Liberation Sans', Arial, sans-serif" font-weight="bold" font-size="4.70" fill="#4a4a4a">3</text>
<text transform="translate(394.42,271.52) scale(1.300,1)" font-family="'Liberation Sans', Arial, sans-serif" font-weight="bold" font-size="4.70" fill="#4a4a4a">6</text>
<text transform="translate(426.44,271.52) scale(1.300,1)" font-family="'Liberation Sans', Arial, sans-serif" font-weight="bold" font-size="4.70" fill="#4a4a4a">9</text>
<text transform="translate(456.67,271.54) scale(1.300,1)" font-family="'Liberation Sans', Arial, sans-serif" font-weight="bold" font-size="4.70" fill="#4a4a4a">12</text>
<text transform="translate(488.64,271.49) scale(1.300,1)" font-family="'Liberation Sans', Arial, sans-serif" font-weight="bold" font-size="4.70" fill="#4a4a4a">15</text>
<text transform="translate(520.66,271.52) scale(1.300,1)" font-family="'Liberation Sans', Arial, sans-serif" font-weight="bold" font-size="4.70" fill="#4a4a4a">18</text>
<text transform="translate(307.69,257.65) scale(1.380,1)" font-family="'Liberation Sans', Arial, sans-serif" font-weight="bold" font-size="4.50" fill="#4a4a4a">100</text>
<text transform="translate(307.69,239.55) scale(1.380,1)" font-family="'Liberation Sans', Arial, sans-serif" font-weight="bold" font-size="4.50" fill="#4a4a4a">120</text>
<text transform="translate(307.69,221.45) scale(1.380,1)" font-family="'Liberation Sans', Arial, sans-serif" font-weight="bold" font-size="4.50" fill="#4a4a4a">140</text>
<text transform="translate(307.69,203.35) scale(1.380,1)" font-family="'Liberation Sans', Arial, sans-serif" font-weight="bold" font-size="4.50" fill="#4a4a4a">160</text>
<text transform="translate(307.69,185.25) scale(1.380,1)" font-family="'Liberation Sans', Arial, sans-serif" font-weight="bold" font-size="4.50" fill="#4a4a4a">180</text>
<text transform="translate(307.69,167.15) scale(1.380,1)" font-family="'Liberation Sans', Arial, sans-serif" font-weight="bold" font-size="4.50" fill="#4a4a4a">200</text>
<text transform="translate(307.69,149.05) scale(1.380,1)" font-family="'Liberation Sans', Arial, sans-serif" font-weight="bold" font-size="4.50" fill="#4a4a4a">220</text>
<text stroke="#111" stroke-width="0.3" transform="translate(430.13,280.90) scale(1.464,1)" font-family="'Liberation Sans', Arial, sans-serif" font-weight="bold" font-size="5.81" fill="#111">K</text>
<text stroke="#111" stroke-width="0.25" transform="translate(301.40,226.39) rotate(-90) scale(0.979,1)" font-family="'Liberation Sans', Arial, sans-serif" font-weight="bold" font-size="5.90" fill="#111">FWHM (nm)</text>
<line x1="321.9" y1="256.0" x2="544.8" y2="256.0" stroke="#1a1a1a" stroke-width="1.75" stroke-dasharray="4.9 3.8"/>
<path d="M332.1,164.13 L333.17,167.13 L334.23,170.03 L335.3,172.84 L336.37,175.55 L337.44,178.18 L338.5,180.72 L339.57,183.17 L340.64,185.55 L341.7,187.85 L342.77,190.07 L343.84,192.22 L344.9,194.3 L345.97,196.31 L347.04,198.25 L348.11,200.13 L349.17,201.95 L350.24,203.71 L351.31,205.41 L352.37,207.06 L353.44,208.65 L354.51,210.19 L355.57,211.68 L356.64,213.12 L357.71,214.52 L358.78,215.86 L359.84,217.17 L360.91,218.43 L361.98,219.65 L363.04,220.83 L364.11,221.97 L365.18,223.07 L366.24,224.14 L367.31,225.17 L368.38,226.17 L369.45,227.14 L370.51,228.07 L371.58,228.97 L372.65,229.85 L373.71,230.69 L374.78,231.51 L375.85,232.3 L376.91,233.07 L377.98,233.81 L379.05,234.52 L380.12,235.21 L381.18,235.88 L382.25,236.53 L383.32,237.16 L384.38,237.76 L385.45,238.35 L386.52,238.91 L387.58,239.46 L388.65,239.99 L389.72,240.5 L390.78,241 L391.85,241.48 L392.92,241.94 L393.99,242.39 L395.05,242.83 L396.12,243.25 L397.19,243.65 L398.25,244.04 L399.32,244.42 L400.39,244.79 L401.45,245.15 L402.52,245.49 L403.59,245.82 L404.66,246.14 L405.72,246.46 L406.79,246.76 L407.86,247.05 L408.92,247.33 L409.99,247.6 L411.06,247.86 L412.12,248.12 L413.19,248.36 L414.26,248.6 L415.33,248.83 L416.39,249.06 L417.46,249.27 L418.53,249.48 L419.59,249.68 L420.66,249.88 L421.73,250.06 L422.79,250.25 L423.86,250.42 L424.93,250.59 L426,250.76 L427.06,250.92 L428.13,251.07 L429.2,251.22 L430.26,251.37 L431.33,251.51 L432.4,251.64 L433.46,251.77 L434.53,251.9 L435.6,252.02 L436.67,252.14 L437.73,252.25 L438.8,252.36 L439.87,252.47 L440.93,252.57 L442,252.68 L443.07,252.77 L444.13,252.87 L445.2,252.96 L446.27,253.04 L447.34,253.13 L448.4,253.21 L449.47,253.29 L450.54,253.37 L451.6,253.44 L452.67,253.51 L453.74,253.58 L454.8,253.65 L455.87,253.71 L456.94,253.78 L458.01,253.84 L459.07,253.9 L460.14,253.95 L461.21,254.01 L462.27,254.06 L463.34,254.11 L464.41,254.16 L465.47,254.21 L466.54,254.26 L467.61,254.3 L468.68,254.34 L469.74,254.39 L470.81,254.43 L471.88,254.47 L472.94,254.51 L474.01,254.54 L475.08,254.58 L476.14,254.61 L477.21,254.65 L478.28,254.68 L479.35,254.71 L480.41,254.74 L481.48,254.77 L482.55,254.8 L483.61,254.82 L484.68,254.85 L485.75,254.88 L486.81,254.9 L487.88,254.92 L488.95,254.95 L490.02,254.97 L491.08,254.99 L492.15,255.01 L493.22,255.03 L494.28,255.05 L495.35,255.07 L496.42,255.09 L497.48,255.11 L498.55,255.12 L499.62,255.14 L500.69,255.16 L501.75,255.17 L502.82,255.19 L503.89,255.2 L504.95,255.22 L506.02,255.23 L507.09,255.24 L508.15,255.25 L509.22,255.27 L510.29,255.28 L511.36,255.29 L512.42,255.3 L513.49,255.31 L514.56,255.32 L515.62,255.33 L516.69,255.34 L517.76,255.35 L518.82,255.36 L519.89,255.37 L520.96,255.38 L522.03,255.39 L523.09,255.39 L524.16,255.4 L525.23,255.41 L526.29,255.42 L527.36,255.42 L528.43,255.43 L529.49,255.44 L530.56,255.44 L531.63,255.45 L532.7,255.45 L533.76,255.46 L534.83,255.47" fill="none" stroke="#3d9bff" stroke-width="1.0"/>
<ellipse cx="332.1" cy="164.13" rx="2.3" ry="1.5" fill="none" stroke="#3d9bff" stroke-width="0.8"/>
<ellipse cx="342.77" cy="184.86" rx="2.3" ry="1.5" fill="none" stroke="#3d9bff" stroke-width="0.8"/>
<ellipse cx="353.44" cy="198.61" rx="2.3" ry="1.5" fill="none" stroke="#3d9bff" stroke-width="0.8"/>
<ellipse cx="364.11" cy="215.54" rx="2.3" ry="1.5" fill="none" stroke="#3d9bff" stroke-width="0.8"/>
<ellipse cx="374.78" cy="226.31" rx="2.3" ry="1.5" fill="none" stroke="#3d9bff" stroke-width="0.8"/>
<ellipse cx="385.45" cy="233.09" rx="2.3" ry="1.5" fill="none" stroke="#3d9bff" stroke-width="0.8"/>
<ellipse cx="396.12" cy="245.58" rx="2.3" ry="1.5" fill="none" stroke="#3d9bff" stroke-width="0.8"/>
<ellipse cx="406.79" cy="248.03" rx="2.3" ry="1.5" fill="none" stroke="#3d9bff" stroke-width="0.8"/>
<ellipse cx="417.46" cy="251.19" rx="2.3" ry="1.5" fill="none" stroke="#3d9bff" stroke-width="0.8"/>
<ellipse cx="428.13" cy="253.37" rx="2.3" ry="1.5" fill="none" stroke="#3d9bff" stroke-width="0.8"/>
<ellipse cx="438.8" cy="255" rx="2.3" ry="1.5" fill="none" stroke="#3d9bff" stroke-width="0.8"/>
<ellipse cx="449.47" cy="255.18" rx="2.3" ry="1.5" fill="none" stroke="#3d9bff" stroke-width="0.8"/>
<ellipse cx="460.14" cy="255" rx="2.3" ry="1.5" fill="none" stroke="#3d9bff" stroke-width="0.8"/>
<ellipse cx="492.15" cy="254.09" rx="2.3" ry="1.5" fill="none" stroke="#3d9bff" stroke-width="0.8"/>
<ellipse cx="524.16" cy="255" rx="2.3" ry="1.5" fill="none" stroke="#3d9bff" stroke-width="0.8"/>
<text stroke="#111" stroke-width="0.22" transform="translate(433.15,242.30) scale(0.986,1)" font-family="'Liberation Serif', 'Times New Roman', serif" font-weight="bold" font-size="9.93" fill="#111" xml:space="preserve">The real size of the sample</text>
<path d="M509,244 V252" stroke="#111" stroke-width="0.9"/><path d="M509,254.6 l-1.6,-3.4 h3.2 z" fill="#111"/>
<ellipse cx="495.2" cy="155.1" rx="2.5" ry="1.6" fill="none" stroke="#3d9bff" stroke-width="0.8"/>
<line x1="486.8" y1="161.3" x2="503.7" y2="161.3" stroke="#3d9bff" stroke-width="1.0"/>
<text stroke="#2a2a2a" stroke-width="0.15" transform="translate(504.80,157.00) scale(1.391,1)" font-family="'Liberation Sans', Arial, sans-serif" font-size="5.23" fill="#2a2a2a" xml:space="preserve">DE-STED</text>
<text stroke="#2a2a2a" stroke-width="0.15" transform="translate(504.81,162.60) scale(1.537,1)" font-family="'Liberation Sans', Arial, sans-serif" font-size="4.65" fill="#2a2a2a" xml:space="preserve">Fit curve</text>
</svg></body></html>
